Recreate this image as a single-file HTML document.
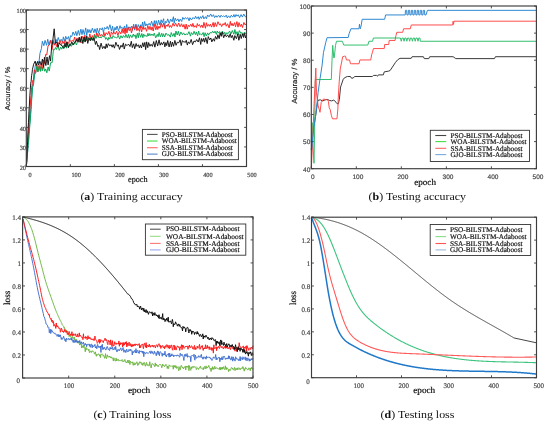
<!DOCTYPE html>
<html><head><meta charset="utf-8"><style>
html,body{margin:0;padding:0;background:#fff;overflow:hidden;}
svg{display:block;will-change:transform;text-rendering:geometricPrecision;}
</style></head><body>
<svg width="550" height="425" viewBox="0 0 550 425">
<rect width="550" height="425" fill="#fff"/>
<polyline points="26.30,166.50 26.74,162.14 27.18,156.13 27.62,152.32 28.06,144.59 28.50,142.02 28.94,134.07 29.38,129.75 29.82,122.50 30.26,117.33 30.70,110.09 31.14,105.48 31.58,97.55 32.03,93.30 32.47,86.63 34.01,77.85 35.20,65.74 36.77,63.74 37.63,61.53 38.90,62.65 39.99,53.16 41.42,48.68 42.35,41.26 43.84,45.69 45.06,40.39 46.57,45.35 47.74,39.31 48.87,44.82 50.29,40.40 51.86,43.60 52.95,39.82 54.51,44.90 56.04,39.38 56.97,42.39 58.25,37.49 59.60,41.46 61.14,39.26 62.46,42.00 63.36,36.87 64.55,41.14 65.73,36.30 66.92,39.25 68.47,36.55 69.54,41.20 70.51,35.73 71.72,36.62 73.02,31.97 74.56,35.29 75.81,31.39 76.82,35.76 78.35,30.42 79.53,35.35 80.86,29.15 82.03,34.65 82.99,29.56 84.33,34.56 85.74,27.91 86.68,35.65 87.84,29.26 88.92,32.62 89.85,29.68 90.81,32.94 92.37,28.19 93.86,32.70 94.96,28.80 96.34,33.41 97.16,28.16 98.68,33.26 99.90,28.24 101.34,29.90 102.36,27.74 103.45,32.48 104.51,27.56 106.08,28.94 107.21,26.43 108.40,29.52 109.95,24.75 111.46,31.00 112.57,26.12 113.60,32.40 115.03,27.36 115.91,29.97 117.02,25.98 118.50,31.01 120.02,25.66 121.00,28.46 121.86,27.24 123.27,29.05 124.56,25.94 125.54,30.71 126.73,24.51 127.58,29.88 128.93,26.77 130.14,28.35 131.49,26.21 132.36,30.43 133.66,24.19 134.75,30.16 135.93,24.02 136.99,28.88 138.29,24.60 139.53,28.00 140.81,24.71 141.66,27.77 142.63,21.94 143.48,28.46 144.57,21.50 145.75,26.04 146.63,24.01 147.95,25.05 149.13,23.28 150.32,25.52 151.59,21.25 153.12,26.41 154.38,20.64 155.25,26.22 156.15,20.64 157.50,25.22 158.55,20.14 159.94,25.03 161.14,19.78 162.23,22.88 163.61,18.69 164.55,26.74 165.56,21.35 166.59,22.67 167.71,18.87 169.22,23.45 170.66,19.16 172.10,21.74 173.40,16.75 174.20,23.25 175.21,18.16 176.41,20.74 177.91,18.83 178.99,21.85 180.22,19.06 181.69,21.51 182.75,17.34 184.13,19.35 185.40,17.50 186.61,18.89 187.90,17.61 189.08,20.85 189.96,17.69 191.46,19.99 193.02,17.47 194.48,18.97 195.55,16.21 196.85,18.72 198.25,16.65 199.09,19.38 200.51,16.61 201.37,18.51 202.91,15.60 203.89,18.90 205.45,16.67 206.43,18.75 207.64,14.98 209.09,16.81 210.67,13.96 212.02,16.65 213.48,14.70 214.58,17.62 215.97,15.65 217.07,17.27 218.60,15.28 220.00,17.40 221.09,15.22 222.51,16.72 223.35,15.81 224.88,16.95 226.22,15.12 227.27,17.97 228.58,15.82 229.99,17.70 231.29,15.19 232.78,17.11 233.90,14.59 234.95,17.14 236.04,14.49 237.05,16.18 238.22,14.75 239.62,17.63 241.10,14.56 242.40,17.09 243.81,14.09 245.38,16.86 246.50,16.30" fill="none" stroke="#1f80d0" stroke-width="0.95" stroke-linejoin="round" />
<polyline points="26.30,166.31 26.74,160.20 27.18,150.48 27.62,145.28 28.06,136.19 28.50,130.82 28.94,123.78 29.38,118.95 29.82,110.93 30.26,106.21 30.70,98.93 31.14,95.34 31.58,87.42 32.03,85.87 32.47,80.66 33.33,80.68 34.31,69.76 35.73,72.57 36.99,64.29 37.86,71.89 38.99,65.42 40.16,70.44 41.08,63.88 42.46,69.49 43.34,59.94 44.44,63.45 45.65,54.35 46.78,55.03 48.04,45.82 49.42,44.85 50.97,40.30 51.99,49.67 53.29,42.15 54.64,45.19 55.66,42.20 56.46,46.58 58.02,42.44 59.05,43.67 60.09,40.64 61.59,44.63 62.85,41.23 64.01,43.61 65.42,39.54 66.24,44.14 67.59,41.90 68.68,43.48 69.54,39.68 70.86,41.68 72.39,40.38 73.35,41.71 74.64,37.00 75.67,41.83 77.05,37.92 78.41,40.44 79.38,37.10 80.83,42.78 82.15,36.13 83.48,38.87 84.92,35.19 86.05,40.99 87.45,36.57 88.94,38.84 89.81,33.86 91.28,40.02 92.38,35.57 93.56,38.35 94.46,34.27 95.81,37.46 96.84,32.96 98.32,36.95 99.33,33.27 100.57,36.23 101.68,34.44 102.96,35.85 103.90,32.34 104.84,36.13 106.22,32.68 107.61,34.65 108.86,31.30 110.38,37.05 111.33,31.83 112.80,34.40 113.73,31.94 115.29,34.19 116.57,31.10 117.85,35.39 119.41,31.23 120.83,33.88 122.24,28.95 123.08,33.19 124.17,28.34 125.03,34.11 125.97,28.26 126.93,33.07 128.41,27.65 129.30,30.68 130.33,28.51 131.51,32.91 132.98,26.53 134.54,28.75 135.89,25.11 136.85,30.66 138.08,28.17 139.43,31.40 140.26,25.98 141.59,31.96 142.68,27.42 143.94,29.59 145.26,27.55 146.59,31.30 147.79,25.49 149.03,29.62 149.98,26.32 151.16,30.13 152.05,26.88 153.23,31.04 154.44,24.51 155.85,29.81 156.96,25.66 157.76,29.57 158.98,26.15 159.93,28.27 161.31,23.15 162.41,27.19 163.51,23.17 165.02,28.75 166.12,24.99 167.19,26.41 168.26,23.90 169.44,27.38 170.30,25.47 171.53,27.55 173.05,23.22 174.29,26.16 175.67,23.20 177.22,26.70 178.68,23.06 180.06,26.72 181.50,23.76 182.94,27.12 183.93,24.46 185.11,29.15 186.17,24.05 187.17,29.16 188.42,25.19 189.46,26.57 190.75,24.23 192.00,26.68 192.88,23.35 194.02,27.23 195.12,25.57 196.47,27.49 197.34,23.53 198.26,26.05 199.46,24.57 200.58,27.37 201.90,24.96 202.95,27.76 203.90,22.33 205.43,28.25 206.42,22.75 207.33,26.34 208.34,24.48 209.41,26.26 210.38,24.14 211.59,27.08 213.13,22.45 214.02,27.12 215.14,22.64 216.47,26.42 217.96,21.71 219.55,25.11 220.45,23.72 221.67,26.64 223.16,23.59 224.00,25.07 225.26,22.51 226.19,26.26 227.59,23.72 229.12,27.96 230.34,21.37 231.14,25.54 231.99,23.24 233.11,26.00 234.57,22.65 235.55,26.73 236.88,21.58 237.99,27.14 238.99,22.56 240.35,26.52 241.38,24.13 242.47,27.52 243.87,22.45 245.05,24.91 246.47,23.47 246.50,28.11" fill="none" stroke="#ff1c1c" stroke-width="0.95" stroke-linejoin="round" />
<polyline points="26.30,166.23 26.74,162.96 27.18,156.10 27.62,151.57 28.06,145.82 28.50,142.42 28.94,134.98 29.38,131.03 29.82,124.60 30.26,121.56 30.70,114.52 31.14,109.46 31.58,101.19 32.03,95.59 32.47,87.83 33.47,84.96 34.50,75.05 35.93,72.02 36.80,66.28 38.07,71.51 39.44,65.76 40.38,71.43 41.22,66.38 42.23,70.90 43.54,66.65 44.78,71.29 45.69,68.97 46.83,72.78 48.15,66.91 49.28,71.10 50.57,62.76 52.13,62.70 53.47,49.31 54.57,49.71 55.51,47.50 56.58,49.47 57.77,45.43 59.27,50.32 60.68,47.13 61.73,49.20 63.25,45.39 64.42,48.07 65.76,45.38 66.64,48.21 67.51,42.80 68.47,46.90 69.96,43.48 71.29,46.39 72.76,43.88 74.06,44.47 75.18,41.52 76.38,44.92 77.64,41.45 79.12,42.21 80.26,41.12 81.76,42.61 83.04,39.61 84.49,41.38 85.68,38.02 87.02,40.45 88.08,37.84 89.29,39.25 90.25,37.85 91.12,40.23 91.95,37.57 93.29,40.80 94.45,35.10 95.95,38.54 97.41,35.50 98.51,37.36 100.07,37.31 101.33,37.76 102.73,35.59 103.85,36.94 104.80,36.63 105.73,39.37 106.66,37.70 107.93,40.32 108.82,37.26 109.62,39.12 111.08,37.11 111.95,38.67 113.10,35.48 114.28,37.20 115.56,37.35 116.75,38.03 118.29,35.52 119.68,39.06 120.93,35.68 122.21,38.04 123.40,35.47 124.96,37.49 125.93,34.36 127.27,37.85 128.50,34.49 129.33,38.22 130.36,34.88 131.89,37.63 133.30,34.03 134.10,36.49 135.13,34.82 135.93,38.67 137.38,33.32 138.26,37.88 139.10,32.70 140.67,37.24 141.82,33.46 142.86,37.72 143.69,34.09 144.79,36.36 145.88,35.42 147.08,36.59 147.88,33.30 148.79,35.99 149.75,33.59 150.89,35.61 151.93,33.99 153.20,35.75 154.22,33.22 155.74,37.83 157.29,34.29 158.13,36.63 159.09,32.44 160.33,36.88 161.73,33.20 162.58,36.78 163.52,33.77 164.67,37.04 165.99,33.10 167.50,35.25 168.98,34.65 170.40,37.14 171.24,32.56 172.81,36.31 174.09,33.30 174.95,37.06 175.94,31.03 177.23,35.06 178.33,31.30 179.47,35.87 180.90,31.98 182.35,34.70 183.57,32.87 185.00,35.08 186.11,33.92 187.68,34.53 188.95,31.64 190.51,36.17 191.34,32.56 192.83,34.73 194.06,31.29 195.42,34.66 196.37,31.95 197.60,35.94 198.62,31.08 199.49,34.60 200.29,34.03 201.80,34.91 203.13,32.50 204.08,36.68 205.08,32.71 206.24,36.03 207.68,32.88 208.57,35.18 210.13,32.58 211.67,32.97 212.65,31.26 213.95,33.02 215.03,31.17 216.38,34.39 217.24,30.97 218.41,33.11 219.66,31.52 220.95,35.05 222.30,31.14 223.80,34.08 224.78,32.21 225.69,35.02 226.80,32.64 228.04,33.73 229.59,31.04 230.95,33.92 232.33,30.53 233.89,34.26 234.90,29.55 235.89,34.48 237.02,31.58 238.05,34.98 239.36,30.64 240.91,33.39 241.82,32.40 243.02,35.59 244.35,32.19 245.54,34.02 246.50,31.74" fill="none" stroke="#00a650" stroke-width="0.95" stroke-linejoin="round" />
<polyline points="26.30,165.72 26.74,159.53 27.18,148.64 27.62,141.35 28.06,129.34 28.50,122.21 28.94,111.27 29.38,105.02 29.82,95.89 30.26,89.87 30.70,83.21 31.14,81.39 31.58,75.68 32.03,73.13 32.47,69.28 33.66,64.18 35.21,61.08 36.12,65.51 37.66,61.52 38.70,65.02 39.83,61.26 41.28,64.95 42.40,59.02 43.62,67.29 44.44,57.32 45.83,65.54 47.05,56.95 48.10,64.86 49.52,55.66 50.55,61.10 51.71,45.89 52.37,44.23 54.18,28.78 55.37,43.26 57.06,42.00 58.07,47.15 59.25,42.94 60.82,45.16 62.38,46.14 63.74,48.49 64.97,43.19 65.98,46.99 66.90,41.82 68.46,47.73 69.66,44.66 70.55,45.22 71.83,41.95 73.24,44.75 74.52,42.15 76.04,41.39 76.86,39.20 78.08,41.96 79.23,37.35 80.07,42.07 81.38,36.60 82.84,43.52 84.11,36.96 85.11,42.09 86.56,36.29 87.76,43.42 88.96,38.25 90.35,40.83 91.26,37.53 92.70,40.29 94.04,37.74 95.45,44.50 96.40,41.16 97.83,46.45 98.77,45.27 99.63,49.55 101.10,43.18 102.57,48.63 104.06,46.28 105.23,48.88 106.24,43.85 107.04,47.70 108.34,43.67 109.70,45.87 111.16,44.78 112.18,47.19 113.14,44.62 114.44,48.17 115.87,42.20 117.43,46.22 118.34,44.85 119.51,49.44 121.01,45.26 122.14,47.20 123.40,42.93 124.21,49.04 125.54,44.18 127.06,45.63 128.51,44.06 130.01,46.54 131.32,41.28 132.31,47.62 133.71,43.84 134.67,48.74 136.12,43.47 136.97,46.43 138.41,44.73 139.34,47.83 140.43,44.90 141.47,48.04 142.81,42.76 143.74,46.80 144.85,42.41 145.65,49.58 146.65,41.85 147.78,47.70 148.65,42.57 149.95,46.26 151.04,44.24 152.41,46.36 153.72,41.58 154.86,47.16 156.34,40.53 157.63,46.04 159.06,39.82 160.13,45.23 161.35,42.52 162.30,44.77 163.88,41.85 164.87,46.84 165.86,42.54 166.72,45.57 167.71,40.55 169.11,46.96 170.46,41.27 171.35,46.76 172.44,42.06 173.57,46.29 174.89,40.43 176.04,45.29 177.30,42.24 178.76,42.82 180.13,39.75 181.21,45.57 182.36,40.52 183.44,41.99 184.32,41.78 185.27,42.56 186.29,40.29 187.33,45.09 188.37,41.86 189.62,43.57 191.19,39.43 192.59,44.68 194.01,40.98 195.41,41.89 196.67,39.55 198.20,42.04 199.53,37.81 200.72,44.45 201.58,38.50 202.76,41.53 203.72,38.32 204.62,42.19 205.81,37.64 207.23,43.61 208.25,36.62 209.65,39.82 210.86,37.97 211.77,41.92 213.33,38.73 214.44,41.22 215.47,36.45 216.93,39.26 217.83,34.76 219.20,38.69 220.14,32.81 221.25,36.38 222.22,31.97 223.68,37.75 224.78,34.73 226.35,36.71 227.64,34.86 228.98,37.53 230.19,33.84 231.22,37.68 232.33,35.34 233.87,40.28 234.82,35.54 236.40,38.71 237.79,34.03 238.87,40.25 240.17,34.27 241.26,38.50 242.36,33.80 243.55,37.46 244.36,33.31 245.54,38.00 246.50,33.75" fill="none" stroke="#111111" stroke-width="0.95" stroke-linejoin="round" />
<path d="M26.30 166.50v-2.4M26.30 10.00v2.4M70.34 166.50v-2.4M70.34 10.00v2.4M114.38 166.50v-2.4M114.38 10.00v2.4M158.42 166.50v-2.4M158.42 10.00v2.4M202.46 166.50v-2.4M202.46 10.00v2.4M246.50 166.50v-2.4M246.50 10.00v2.4M26.30 166.50h2.4M246.50 166.50h-2.4M26.30 146.94h2.4M246.50 146.94h-2.4M26.30 127.38h2.4M246.50 127.38h-2.4M26.30 107.81h2.4M246.50 107.81h-2.4M26.30 88.25h2.4M246.50 88.25h-2.4M26.30 68.69h2.4M246.50 68.69h-2.4M26.30 49.12h2.4M246.50 49.12h-2.4M26.30 29.56h2.4M246.50 29.56h-2.4M26.30 10.00h2.4M246.50 10.00h-2.4" stroke="#3d3d3d" stroke-width="0.9" fill="none"/>
<rect x="26.3" y="10.0" width="220.20" height="156.50" fill="none" stroke="#3d3d3d" stroke-width="1.15"/>
<text x="26.00" y="169.70" font-family='"Liberation Serif", serif' font-size="6.3" text-anchor="end" fill="#4a4a4a" stroke="#4a4a4a" stroke-width="0.2" >20</text>
<text x="26.00" y="150.14" font-family='"Liberation Serif", serif' font-size="6.3" text-anchor="end" fill="#4a4a4a" stroke="#4a4a4a" stroke-width="0.2" >30</text>
<text x="26.00" y="130.57" font-family='"Liberation Serif", serif' font-size="6.3" text-anchor="end" fill="#4a4a4a" stroke="#4a4a4a" stroke-width="0.2" >40</text>
<text x="26.00" y="111.01" font-family='"Liberation Serif", serif' font-size="6.3" text-anchor="end" fill="#4a4a4a" stroke="#4a4a4a" stroke-width="0.2" >50</text>
<text x="26.00" y="91.45" font-family='"Liberation Serif", serif' font-size="6.3" text-anchor="end" fill="#4a4a4a" stroke="#4a4a4a" stroke-width="0.2" >60</text>
<text x="26.00" y="71.89" font-family='"Liberation Serif", serif' font-size="6.3" text-anchor="end" fill="#4a4a4a" stroke="#4a4a4a" stroke-width="0.2" >70</text>
<text x="26.00" y="52.33" font-family='"Liberation Serif", serif' font-size="6.3" text-anchor="end" fill="#4a4a4a" stroke="#4a4a4a" stroke-width="0.2" >80</text>
<text x="26.00" y="32.76" font-family='"Liberation Serif", serif' font-size="6.3" text-anchor="end" fill="#4a4a4a" stroke="#4a4a4a" stroke-width="0.2" >90</text>
<text x="26.00" y="13.20" font-family='"Liberation Serif", serif' font-size="6.3" text-anchor="end" fill="#4a4a4a" stroke="#4a4a4a" stroke-width="0.2" >100</text>
<text x="30.10" y="176.60" font-family='"Liberation Serif", serif' font-size="6.3" text-anchor="middle" fill="#4a4a4a" stroke="#4a4a4a" stroke-width="0.2" >0</text>
<text x="76.14" y="176.60" font-family='"Liberation Serif", serif' font-size="6.3" text-anchor="middle" fill="#4a4a4a" stroke="#4a4a4a" stroke-width="0.2" >100</text>
<text x="119.98" y="176.60" font-family='"Liberation Serif", serif' font-size="6.3" text-anchor="middle" fill="#4a4a4a" stroke="#4a4a4a" stroke-width="0.2" >200</text>
<text x="163.92" y="176.60" font-family='"Liberation Serif", serif' font-size="6.3" text-anchor="middle" fill="#4a4a4a" stroke="#4a4a4a" stroke-width="0.2" >300</text>
<text x="207.96" y="176.60" font-family='"Liberation Serif", serif' font-size="6.3" text-anchor="middle" fill="#4a4a4a" stroke="#4a4a4a" stroke-width="0.2" >400</text>
<text x="252.00" y="176.60" font-family='"Liberation Serif", serif' font-size="6.3" text-anchor="middle" fill="#4a4a4a" stroke="#4a4a4a" stroke-width="0.2" >500</text>
<text x="128.00" y="182.40" font-family='"Liberation Serif", serif' font-size="8.6" text-anchor="start" fill="#111" textLength="19.60" lengthAdjust="spacingAndGlyphs" stroke="#111" stroke-width="0.2" >epoch</text>
<text x="0.00" y="0.00" font-family='"Liberation Sans", sans-serif' font-size="7.0" text-anchor="middle" fill="#2a2a2a" textLength="43.60" lengthAdjust="spacingAndGlyphs" stroke="#2a2a2a" stroke-width="0.2" transform="translate(10.2,88.4) rotate(-90)">Accuracy / %</text>
<rect x="142.4" y="129.4" width="96.00" height="30.30" fill="#fff" stroke="#333" stroke-width="0.9"/>
<line x1="147.0" y1="134.41" x2="157.6" y2="134.41" stroke="#555" stroke-width="1.1"/>
<text x="161.80" y="136.60" font-family='"Liberation Serif", serif' font-size="7.3" text-anchor="start" fill="#111" textLength="71.00" lengthAdjust="spacingAndGlyphs" stroke="#111" stroke-width="0.18">PSO-BILSTM-Adaboost</text>
<line x1="147.0" y1="141.01" x2="157.6" y2="141.01" stroke="#4d4" stroke-width="1.1"/>
<text x="161.80" y="143.20" font-family='"Liberation Serif", serif' font-size="7.3" text-anchor="start" fill="#111" textLength="74.93" lengthAdjust="spacingAndGlyphs" stroke="#111" stroke-width="0.18">WOA-BILSTM-Adaboost</text>
<line x1="147.0" y1="147.71" x2="157.6" y2="147.71" stroke="#f66" stroke-width="1.1"/>
<text x="161.80" y="149.90" font-family='"Liberation Serif", serif' font-size="7.3" text-anchor="start" fill="#111" textLength="71.00" lengthAdjust="spacingAndGlyphs" stroke="#111" stroke-width="0.18">SSA-BILSTM-Adaboost</text>
<line x1="147.0" y1="154.11" x2="157.6" y2="154.11" stroke="#58c" stroke-width="1.1"/>
<text x="161.80" y="156.30" font-family='"Liberation Serif", serif' font-size="7.3" text-anchor="start" fill="#111" textLength="71.00" lengthAdjust="spacingAndGlyphs" stroke="#111" stroke-width="0.18">GJO-BILSTM-Adaboost</text>
<polyline points="311.30,149.72 311.98,141.58 313.55,128.02 315.80,114.47 317.87,100.37 320.30,99.82 322.56,100.91 324.81,100.09 327.06,99.28 329.31,100.37 331.56,100.91 333.81,100.09 336.06,102.26 336.96,103.62 338.31,103.89 339.39,99.28 340.56,87.08 341.19,85.18 343.26,79.21 344.16,78.13 345.97,77.05 347.59,76.50 350.47,76.50 351.37,78.13 353.17,78.13 354.52,76.50 372.39,76.50 373.43,75.42 376.58,75.42 377.48,76.23 378.38,74.88 383.33,74.88 384.23,71.89 388.73,71.08 390.08,70.54 395.49,62.40 397.74,59.69 399.99,58.34 411.24,58.34 412.14,56.71 423.40,56.71 424.30,58.61 428.80,58.61 429.70,56.71 453.11,56.71 455.81,58.61 494.53,58.61 495.43,56.71 536.40,56.71" fill="none" stroke="#3a3a3a" stroke-width="1.0" stroke-linejoin="round" />
<polyline points="311.30,141.58 312.20,122.60 313.10,147.01 314.00,163.28 314.68,128.02 315.35,79.49 331.33,79.49 332.01,60.23 332.73,45.32 333.81,58.06 334.26,57.52 335.52,45.32 336.51,41.25 342.36,41.25 343.71,45.05 367.80,45.05 368.93,41.25 372.53,41.25 373.43,38.00 400.44,38.00 401.25,41.25 402.06,38.00 403.23,38.00 404.04,41.25 404.85,38.00 406.02,38.00 406.83,41.25 407.64,38.00 408.81,38.00 409.62,41.25 410.43,38.00 411.60,38.00 412.41,41.25 413.23,38.00 414.40,38.00 415.21,41.25 416.02,38.00 417.19,38.00 418.00,41.25 418.81,38.00 419.98,38.00 420.25,41.25 536.40,41.25" fill="none" stroke="#33c070" stroke-width="1.0" stroke-linejoin="round" />
<polyline points="311.30,168.70 312.65,141.58 314.00,106.33 314.90,87.35 315.80,68.10 316.48,92.77 318.05,105.25 320.03,112.30 321.20,102.54 323.46,99.01 327.96,100.09 328.41,101.45 329.22,107.69 330.21,109.59 331.33,115.28 332.46,118.81 336.96,118.81 337.86,109.04 338.22,98.20 339.21,81.93 340.25,68.91 341.46,62.94 342.68,56.71 344.61,56.17 345.52,56.17 346.42,59.96 349.57,59.96 350.47,63.76 351.37,63.76 359.02,63.76 359.92,59.96 370.73,59.96 371.63,54.81 372.53,52.10 373.43,48.57 384.23,48.57 384.68,44.51 388.73,44.51 389.18,40.44 395.04,40.44 395.94,35.56 396.84,32.30 402.69,32.30 403.59,28.78 410.34,28.78 411.24,24.98 452.66,24.98 453.11,21.19 453.56,24.44 454.01,21.19 536.40,21.19" fill="none" stroke="#ff4d4d" stroke-width="1.0" stroke-linejoin="round" />
<polyline points="311.30,149.72 311.75,148.63 313.55,129.38 315.80,114.47 318.05,92.77 320.03,78.67 321.38,70.00 322.10,65.11 323.46,52.64 325.71,42.61 327.06,37.73 348.22,37.46 349.12,33.66 350.92,28.78 359.02,28.78 359.47,24.17 359.92,27.69 360.37,28.78 361.27,24.98 362.17,19.29 384.68,19.29 385.58,14.95 405.21,14.95 405.44,10.34 406.70,10.34 406.92,14.95 408.18,14.95 408.41,10.34 409.67,10.34 409.89,14.95 411.15,14.95 411.38,10.34 412.64,10.34 412.87,14.95 414.13,14.95 414.35,10.34 415.61,10.34 415.84,14.95 417.10,14.95 417.32,10.34 418.58,10.34 418.81,14.95 420.07,14.95 420.29,10.34 421.55,10.34 421.78,14.95 423.04,14.95 423.26,10.34 424.53,10.34 424.75,14.95 426.01,14.95 427.45,10.34 536.40,10.34" fill="none" stroke="#2f88d2" stroke-width="1.0" stroke-linejoin="round" />
<path d="M311.30 168.70v-2.4M311.30 6.00v2.4M356.32 168.70v-2.4M356.32 6.00v2.4M401.34 168.70v-2.4M401.34 6.00v2.4M446.36 168.70v-2.4M446.36 6.00v2.4M491.38 168.70v-2.4M491.38 6.00v2.4M536.40 168.70v-2.4M536.40 6.00v2.4M311.30 168.70h2.4M536.40 168.70h-2.4M311.30 141.58h2.4M536.40 141.58h-2.4M311.30 114.47h2.4M536.40 114.47h-2.4M311.30 87.35h2.4M536.40 87.35h-2.4M311.30 60.23h2.4M536.40 60.23h-2.4M311.30 33.12h2.4M536.40 33.12h-2.4M311.30 6.00h2.4M536.40 6.00h-2.4" stroke="#3d3d3d" stroke-width="0.9" fill="none"/>
<rect x="311.3" y="6.0" width="225.10" height="162.70" fill="none" stroke="#3d3d3d" stroke-width="1.15"/>
<text x="310.30" y="171.60" font-family='"Liberation Sans", sans-serif' font-size="6.5" text-anchor="end" fill="#4a4a4a" stroke="#4a4a4a" stroke-width="0.2" >40</text>
<text x="310.30" y="144.48" font-family='"Liberation Sans", sans-serif' font-size="6.5" text-anchor="end" fill="#4a4a4a" stroke="#4a4a4a" stroke-width="0.2" >50</text>
<text x="310.30" y="117.37" font-family='"Liberation Sans", sans-serif' font-size="6.5" text-anchor="end" fill="#4a4a4a" stroke="#4a4a4a" stroke-width="0.2" >60</text>
<text x="310.30" y="90.25" font-family='"Liberation Sans", sans-serif' font-size="6.5" text-anchor="end" fill="#4a4a4a" stroke="#4a4a4a" stroke-width="0.2" >70</text>
<text x="310.30" y="63.13" font-family='"Liberation Sans", sans-serif' font-size="6.5" text-anchor="end" fill="#4a4a4a" stroke="#4a4a4a" stroke-width="0.2" >80</text>
<text x="310.30" y="36.02" font-family='"Liberation Sans", sans-serif' font-size="6.5" text-anchor="end" fill="#4a4a4a" stroke="#4a4a4a" stroke-width="0.2" >90</text>
<text x="310.30" y="8.90" font-family='"Liberation Sans", sans-serif' font-size="6.5" text-anchor="end" fill="#4a4a4a" stroke="#4a4a4a" stroke-width="0.2" >100</text>
<text x="312.90" y="178.80" font-family='"Liberation Sans", sans-serif' font-size="6.5" text-anchor="middle" fill="#4a4a4a" stroke="#4a4a4a" stroke-width="0.2" >0</text>
<text x="357.92" y="178.80" font-family='"Liberation Sans", sans-serif' font-size="6.5" text-anchor="middle" fill="#4a4a4a" stroke="#4a4a4a" stroke-width="0.2" >100</text>
<text x="402.94" y="178.80" font-family='"Liberation Sans", sans-serif' font-size="6.5" text-anchor="middle" fill="#4a4a4a" stroke="#4a4a4a" stroke-width="0.2" >200</text>
<text x="447.96" y="178.80" font-family='"Liberation Sans", sans-serif' font-size="6.5" text-anchor="middle" fill="#4a4a4a" stroke="#4a4a4a" stroke-width="0.2" >300</text>
<text x="492.98" y="178.80" font-family='"Liberation Sans", sans-serif' font-size="6.5" text-anchor="middle" fill="#4a4a4a" stroke="#4a4a4a" stroke-width="0.2" >400</text>
<text x="538.00" y="178.80" font-family='"Liberation Sans", sans-serif' font-size="6.5" text-anchor="middle" fill="#4a4a4a" stroke="#4a4a4a" stroke-width="0.2" >500</text>
<text x="414.20" y="185.20" font-family='"Liberation Serif", serif' font-size="8.8" text-anchor="start" fill="#111" textLength="21.80" lengthAdjust="spacingAndGlyphs" stroke="#111" stroke-width="0.2" >epoch</text>
<text x="0.00" y="0.00" font-family='"Liberation Sans", sans-serif' font-size="7.4" text-anchor="middle" fill="#222" textLength="45.00" lengthAdjust="spacingAndGlyphs" stroke="#222" stroke-width="0.2" transform="translate(296.9,81.1) rotate(-90)">Accuracy / %</text>
<rect x="430.3" y="130.3" width="99.20" height="31.20" fill="#fff" stroke="#333" stroke-width="0.9"/>
<line x1="435.3" y1="135.51" x2="446.2" y2="135.51" stroke="#444" stroke-width="1.1"/>
<text x="450.40" y="137.70" font-family='"Liberation Serif", serif' font-size="7.3" text-anchor="start" fill="#111" textLength="72.20" lengthAdjust="spacingAndGlyphs" stroke="#111" stroke-width="0.18">PSO-BILSTM-Adaboost</text>
<line x1="435.3" y1="141.61" x2="446.2" y2="141.61" stroke="#4d4" stroke-width="1.1"/>
<text x="450.40" y="143.80" font-family='"Liberation Serif", serif' font-size="7.3" text-anchor="start" fill="#111" textLength="76.20" lengthAdjust="spacingAndGlyphs" stroke="#111" stroke-width="0.18">WOA-BILSTM-Adaboost</text>
<line x1="435.3" y1="148.31" x2="446.2" y2="148.31" stroke="#f66" stroke-width="1.1"/>
<text x="450.40" y="150.50" font-family='"Liberation Serif", serif' font-size="7.3" text-anchor="start" fill="#111" textLength="72.20" lengthAdjust="spacingAndGlyphs" stroke="#111" stroke-width="0.18">SSA-BILSTM-Adaboost</text>
<line x1="435.3" y1="154.61" x2="446.2" y2="154.61" stroke="#7ad" stroke-width="1.1"/>
<text x="450.40" y="156.80" font-family='"Liberation Serif", serif' font-size="7.3" text-anchor="start" fill="#111" textLength="72.20" lengthAdjust="spacingAndGlyphs" stroke="#111" stroke-width="0.18">GJO-BILSTM-Adaboost</text>
<polyline points="23.06,217.00 23.52,217.17 23.98,217.41 24.44,217.72 24.90,218.07 25.36,218.47 25.83,218.91 26.29,219.37 26.75,219.85 27.21,220.35 27.67,220.91 28.13,221.59 28.59,222.37 29.05,223.23 29.51,224.16 29.97,225.15 30.43,226.19 30.89,227.26 31.36,228.40 31.82,229.66 32.28,231.02 32.74,232.46 33.20,233.97 33.66,235.54 34.12,237.14 34.58,238.76 35.04,240.46 35.50,242.27 35.96,244.15 36.42,246.09 36.88,248.04 37.35,249.97 37.81,251.84 38.27,253.65 38.73,255.42 39.19,257.18 39.65,258.92 40.11,260.64 40.57,262.36 41.03,264.08 41.49,265.80 41.95,267.53 42.41,269.28 42.88,271.06 43.34,272.85 43.80,274.63 44.26,276.39 44.72,278.11 45.18,279.76 45.64,281.34 46.10,282.85 46.56,284.30 47.02,285.72 47.48,287.10 47.94,288.45 48.40,289.78 48.87,291.10 49.33,292.41 49.79,293.72 50.25,295.03 50.71,296.35 51.17,297.64 51.63,298.93 52.09,300.20 52.55,301.48 53.01,302.77 53.47,304.08 53.93,305.40 54.40,306.70 54.86,307.97 55.32,309.20 55.78,310.35 56.24,311.45 56.70,312.52 57.16,313.59 57.62,314.65 58.08,315.69 58.54,316.72 59.00,317.73 59.46,318.73 59.92,319.70 60.39,320.62 60.85,321.53 61.31,322.38 61.77,323.22 62.23,324.74 62.69,325.34 63.15,325.74 63.61,326.44 64.07,328.19 64.53,327.53 64.99,329.13 65.45,329.68 65.92,329.98 66.38,330.23 66.84,332.58 67.30,331.13 67.76,332.50 68.22,333.88 68.68,333.98 69.14,336.58 69.60,335.42 70.06,335.01 70.52,336.47 70.98,336.53 71.44,340.17 71.91,337.04 72.37,336.42 72.83,338.00 73.29,338.67 73.75,338.21 74.21,336.91 74.67,339.94 75.13,339.37 75.59,342.01 76.05,339.17 76.51,340.27 76.97,339.88 77.44,341.75 77.90,343.17 78.36,341.41 78.82,341.91 79.28,344.04 79.74,345.07 80.20,343.34 80.66,344.39 81.12,341.73 81.58,347.94 82.04,345.92 82.50,345.83 82.96,347.89 83.43,347.40 83.89,344.98 84.35,347.26 84.81,348.10 85.27,351.81 85.73,347.40 86.19,347.60 86.65,349.74 87.11,349.33 87.57,348.86 88.03,349.05 88.49,350.49 88.96,349.34 89.42,352.61 89.88,351.97 90.34,351.15 90.80,351.19 91.26,352.60 91.72,351.21 92.18,350.65 92.64,351.54 93.10,352.02 93.56,351.57 94.02,352.24 94.48,354.14 94.95,353.30 95.41,351.85 95.87,354.68 96.33,356.25 96.79,354.19 97.25,354.89 97.71,355.16 98.17,354.07 98.63,353.97 99.09,354.10 99.55,356.13 100.01,354.98 100.48,357.59 100.94,353.85 101.40,354.25 101.86,354.18 102.32,354.00 102.78,354.40 103.24,356.29 103.70,355.44 104.16,356.39 104.62,358.33 105.08,357.68 105.54,353.67 106.00,357.30 106.47,358.66 106.93,356.98 107.39,354.82 107.85,356.68 108.31,356.35 108.77,357.27 109.23,357.25 109.69,355.97 110.15,356.68 110.61,357.84 111.07,356.97 111.53,356.96 112.00,358.57 112.46,358.21 112.92,358.41 113.38,361.09 113.84,357.74 114.30,359.31 114.76,359.93 115.22,361.20 115.68,360.88 116.14,357.94 116.60,360.97 117.06,359.37 117.52,360.35 117.99,359.50 118.45,359.50 118.91,361.11 119.37,360.69 119.83,360.36 120.29,360.44 120.75,360.69 121.21,361.10 121.67,360.16 122.13,359.50 122.59,360.44 123.05,361.93 123.52,360.78 123.98,361.23 124.44,360.87 124.90,359.44 125.36,361.78 125.82,361.64 126.28,362.98 126.74,362.10 127.20,362.48 127.66,360.18 128.12,362.78 128.58,362.70 129.04,360.04 129.51,363.67 129.97,364.62 130.43,361.25 130.89,361.80 131.35,362.78 131.81,362.71 132.27,363.01 132.73,361.84 133.19,365.34 133.65,363.38 134.11,362.72 134.57,364.89 135.04,365.00 135.50,363.34 135.96,363.96 136.42,362.32 136.88,361.73 137.34,363.24 137.80,365.49 138.26,363.65 138.72,364.50 139.18,362.80 139.64,361.76 140.10,363.31 140.56,362.05 141.03,362.12 141.49,363.06 141.95,364.82 142.41,363.70 142.87,365.45 143.33,362.78 143.79,363.83 144.25,362.50 144.71,363.73 145.17,366.21 145.63,366.04 146.09,363.17 146.56,362.41 147.02,365.34 147.48,365.33 147.94,364.30 148.40,365.57 148.86,365.97 149.32,365.71 149.78,361.73 150.24,365.31 150.70,365.78 151.16,368.00 151.62,364.77 152.08,363.41 152.55,363.83 153.01,364.05 153.47,364.90 153.93,364.82 154.39,365.73 154.85,366.72 155.31,362.89 155.77,365.65 156.23,364.09 156.69,365.58 157.15,365.37 157.61,365.48 158.08,366.86 158.54,365.48 159.00,365.01 159.46,364.56 159.92,364.96 160.38,364.43 160.84,365.26 161.30,365.62 161.76,367.81 162.22,366.28 162.68,364.03 163.14,365.63 163.60,364.93 164.07,366.07 164.53,366.61 164.99,365.41 165.45,365.55 165.91,364.34 166.37,365.43 166.83,366.37 167.29,368.53 167.75,366.02 168.21,367.86 168.67,368.61 169.13,364.86 169.60,365.46 170.06,365.58 170.52,366.26 170.98,366.38 171.44,365.91 171.90,366.24 172.36,366.36 172.82,365.66 173.28,369.19 173.74,365.55 174.20,367.25 174.66,365.66 175.12,365.34 175.59,367.58 176.05,365.82 176.51,368.38 176.97,367.53 177.43,367.38 177.89,366.71 178.35,369.30 178.81,370.77 179.27,366.72 179.73,367.44 180.19,369.75 180.65,367.44 181.12,365.37 181.58,365.61 182.04,367.21 182.50,367.99 182.96,367.15 183.42,368.98 183.88,367.91 184.34,367.56 184.80,366.53 185.26,366.21 185.72,369.92 186.18,366.21 186.64,367.15 187.11,366.05 187.57,367.35 188.03,366.87 188.49,365.57 188.95,370.63 189.41,365.66 189.87,367.21 190.33,369.43 190.79,370.37 191.25,367.12 191.71,368.61 192.17,366.40 192.64,367.28 193.10,367.67 193.56,366.46 194.02,367.35 194.48,366.76 194.94,366.68 195.40,367.25 195.86,366.75 196.32,369.72 196.78,369.14 197.24,367.96 197.70,367.80 198.16,368.10 198.63,369.43 199.09,368.33 199.55,367.35 200.01,367.52 200.47,366.08 200.93,368.42 201.39,368.25 201.85,368.41 202.31,368.14 202.77,368.47 203.23,369.87 203.69,367.45 204.16,366.76 204.62,366.63 205.08,369.06 205.54,368.09 206.00,365.87 206.46,368.33 206.92,367.53 207.38,368.09 207.84,366.83 208.30,366.89 208.76,365.41 209.22,367.42 209.68,367.49 210.15,369.31 210.61,368.45 211.07,371.46 211.53,368.38 211.99,369.46 212.45,366.71 212.91,369.20 213.37,367.76 213.83,369.45 214.29,367.71 214.75,366.28 215.21,369.00 215.68,367.72 216.14,368.20 216.60,367.83 217.06,367.69 217.52,368.85 217.98,368.36 218.44,368.82 218.90,369.09 219.36,369.54 219.82,367.15 220.28,370.03 220.74,367.50 221.20,367.63 221.67,369.34 222.13,367.11 222.59,369.21 223.05,367.59 223.51,366.69 223.97,369.08 224.43,369.32 224.89,369.35 225.35,365.82 225.81,368.75 226.27,369.73 226.73,367.47 227.20,368.56 227.66,368.41 228.12,369.48 228.58,371.65 229.04,369.21 229.50,369.56 229.96,370.71 230.42,369.63 230.88,369.49 231.34,367.58 231.80,367.70 232.26,367.91 232.72,369.07 233.19,369.87 233.65,369.81 234.11,368.01 234.57,367.43 235.03,370.69 235.49,369.70 235.95,368.21 236.41,369.57 236.87,369.44 237.33,367.87 237.79,369.96 238.25,368.67 238.72,367.74 239.18,368.34 239.64,368.14 240.10,369.83 240.56,368.76 241.02,368.92 241.48,367.97 241.94,368.18 242.40,368.61 242.86,366.57 243.32,368.06 243.78,368.97 244.24,371.16 244.71,368.71 245.17,369.30 245.63,367.33 246.09,368.06 246.55,369.03 247.01,369.41 247.47,369.87 247.93,369.01 248.39,369.43 248.85,367.80 249.31,368.78 249.77,368.57 250.24,370.77 250.70,367.90 251.16,368.98 251.62,367.24 252.08,368.95 252.54,369.28 253.00,368.52" fill="none" stroke="#6ab43c" stroke-width="0.95" stroke-linejoin="round" />
<polyline points="23.06,219.08 23.52,221.26 23.98,223.43 24.44,225.59 24.90,227.75 25.36,229.89 25.83,232.03 26.29,234.16 26.75,236.27 27.21,238.35 27.67,240.40 28.13,242.44 28.59,244.47 29.05,246.49 29.51,248.51 29.97,250.54 30.43,252.59 30.89,254.65 31.36,256.74 31.82,258.85 32.28,261.01 32.74,263.21 33.20,265.45 33.66,267.80 34.12,270.23 34.58,272.73 35.04,275.28 35.50,277.84 35.96,280.39 36.42,282.90 36.88,285.35 37.35,287.72 37.81,289.97 38.27,292.12 38.73,294.19 39.19,296.20 39.65,298.17 40.11,300.11 40.57,302.03 41.03,303.95 41.49,305.88 41.95,307.75 42.41,309.72 42.88,312.00 43.34,313.58 43.80,316.37 44.26,316.96 44.72,318.19 45.18,320.12 45.64,321.38 46.10,324.09 46.56,324.34 47.02,325.10 47.48,325.25 47.94,327.40 48.40,326.94 48.87,327.63 49.33,332.84 49.79,330.76 50.25,329.02 50.71,333.56 51.17,332.01 51.63,329.74 52.09,330.92 52.55,331.96 53.01,331.90 53.47,332.90 53.93,333.40 54.40,333.63 54.86,332.87 55.32,333.58 55.78,334.55 56.24,334.33 56.70,334.80 57.16,336.39 57.62,334.74 58.08,334.22 58.54,336.64 59.00,334.77 59.46,336.79 59.92,334.85 60.39,334.99 60.85,337.24 61.31,339.50 61.77,337.62 62.23,339.14 62.69,339.23 63.15,338.07 63.61,336.20 64.07,338.20 64.53,338.52 64.99,340.74 65.45,339.30 65.92,341.80 66.38,338.15 66.84,339.60 67.30,339.11 67.76,339.20 68.22,339.54 68.68,338.21 69.14,338.92 69.60,340.05 70.06,339.57 70.52,339.19 70.98,338.27 71.44,339.97 71.91,338.43 72.37,341.14 72.83,340.82 73.29,342.55 73.75,339.78 74.21,342.28 74.67,342.43 75.13,340.21 75.59,342.11 76.05,342.54 76.51,340.53 76.97,342.13 77.44,341.06 77.90,342.69 78.36,341.40 78.82,341.09 79.28,342.48 79.74,340.43 80.20,343.33 80.66,343.22 81.12,342.97 81.58,341.91 82.04,343.66 82.50,343.97 82.96,343.21 83.43,342.06 83.89,344.28 84.35,345.48 84.81,344.14 85.27,343.29 85.73,344.87 86.19,344.14 86.65,346.76 87.11,344.47 87.57,344.47 88.03,343.92 88.49,344.41 88.96,343.93 89.42,346.26 89.88,344.26 90.34,347.28 90.80,346.04 91.26,343.98 91.72,344.40 92.18,347.91 92.64,344.91 93.10,346.29 93.56,346.82 94.02,345.67 94.48,345.85 94.95,344.34 95.41,348.01 95.87,346.81 96.33,346.54 96.79,348.77 97.25,345.04 97.71,344.38 98.17,347.47 98.63,346.28 99.09,347.18 99.55,346.58 100.01,347.85 100.48,346.02 100.94,352.46 101.40,345.50 101.86,346.85 102.32,344.31 102.78,349.54 103.24,347.64 103.70,349.22 104.16,347.84 104.62,347.19 105.08,348.97 105.54,349.69 106.00,350.14 106.47,347.74 106.93,346.47 107.39,346.67 107.85,348.18 108.31,349.50 108.77,348.81 109.23,350.33 109.69,350.48 110.15,347.20 110.61,348.97 111.07,348.28 111.53,349.09 112.00,347.13 112.46,347.05 112.92,349.91 113.38,349.46 113.84,349.91 114.30,347.45 114.76,347.60 115.22,349.61 115.68,346.39 116.14,349.33 116.60,351.31 117.06,352.05 117.52,349.72 117.99,349.90 118.45,350.40 118.91,349.26 119.37,350.69 119.83,349.91 120.29,348.82 120.75,347.84 121.21,349.37 121.67,350.79 122.13,349.57 122.59,349.49 123.05,347.52 123.52,350.83 123.98,352.30 124.44,350.01 124.90,350.03 125.36,351.02 125.82,352.60 126.28,350.20 126.74,349.12 127.20,351.76 127.66,351.65 128.12,350.84 128.58,351.50 129.04,349.30 129.51,350.23 129.97,351.04 130.43,349.13 130.89,350.47 131.35,349.89 131.81,350.19 132.27,354.93 132.73,351.48 133.19,351.34 133.65,352.78 134.11,351.88 134.57,350.41 135.04,351.15 135.50,352.78 135.96,348.64 136.42,352.98 136.88,350.93 137.34,350.84 137.80,350.19 138.26,352.94 138.72,351.86 139.18,353.53 139.64,350.53 140.10,351.53 140.56,351.52 141.03,351.41 141.49,350.86 141.95,352.37 142.41,351.09 142.87,353.42 143.33,351.40 143.79,356.70 144.25,351.96 144.71,352.20 145.17,353.54 145.63,353.91 146.09,352.61 146.56,352.37 147.02,353.28 147.48,353.02 147.94,353.03 148.40,353.35 148.86,352.96 149.32,352.41 149.78,351.15 150.24,352.02 150.70,353.58 151.16,350.85 151.62,351.43 152.08,353.29 152.55,351.71 153.01,353.71 153.47,354.03 153.93,354.03 154.39,351.10 154.85,353.01 155.31,352.82 155.77,353.18 156.23,355.79 156.69,352.72 157.15,352.52 157.61,350.93 158.08,354.52 158.54,351.55 159.00,352.68 159.46,355.75 159.92,352.37 160.38,351.60 160.84,352.30 161.30,353.41 161.76,353.56 162.22,356.31 162.68,353.44 163.14,353.66 163.60,355.11 164.07,353.73 164.53,354.86 164.99,351.22 165.45,355.66 165.91,355.30 166.37,356.95 166.83,354.77 167.29,354.18 167.75,354.36 168.21,355.23 168.67,353.36 169.13,357.15 169.60,353.06 170.06,354.75 170.52,356.88 170.98,354.89 171.44,356.03 171.90,353.75 172.36,355.61 172.82,355.20 173.28,354.96 173.74,356.91 174.20,355.52 174.66,355.25 175.12,355.85 175.59,355.38 176.05,355.01 176.51,356.11 176.97,355.68 177.43,354.79 177.89,355.87 178.35,355.37 178.81,355.66 179.27,356.84 179.73,357.20 180.19,353.10 180.65,353.90 181.12,355.83 181.58,354.52 182.04,354.36 182.50,354.58 182.96,356.29 183.42,357.68 183.88,360.50 184.34,356.24 184.80,354.27 185.26,354.04 185.72,356.35 186.18,356.50 186.64,354.59 187.11,353.54 187.57,357.34 188.03,355.62 188.49,356.06 188.95,356.68 189.41,356.71 189.87,356.76 190.33,356.38 190.79,361.78 191.25,356.44 191.71,355.47 192.17,355.55 192.64,355.53 193.10,356.14 193.56,356.35 194.02,354.17 194.48,359.37 194.94,360.21 195.40,355.14 195.86,356.70 196.32,358.41 196.78,357.50 197.24,357.38 197.70,357.06 198.16,357.47 198.63,355.68 199.09,356.06 199.55,356.37 200.01,357.52 200.47,355.75 200.93,355.82 201.39,354.33 201.85,357.89 202.31,357.29 202.77,359.12 203.23,359.07 203.69,356.89 204.16,356.97 204.62,357.21 205.08,358.49 205.54,357.28 206.00,359.23 206.46,355.88 206.92,358.02 207.38,357.24 207.84,357.48 208.30,357.25 208.76,357.36 209.22,357.01 209.68,358.02 210.15,357.55 210.61,359.01 211.07,358.96 211.53,358.74 211.99,360.49 212.45,359.44 212.91,358.53 213.37,356.97 213.83,357.27 214.29,358.34 214.75,357.44 215.21,357.40 215.68,354.51 216.14,359.90 216.60,357.61 217.06,359.59 217.52,359.20 217.98,358.25 218.44,357.45 218.90,357.77 219.36,357.16 219.82,361.73 220.28,359.54 220.74,358.00 221.20,359.80 221.67,357.45 222.13,356.62 222.59,359.82 223.05,358.75 223.51,357.44 223.97,355.97 224.43,357.00 224.89,357.38 225.35,359.41 225.81,358.30 226.27,358.19 226.73,359.13 227.20,357.87 227.66,358.81 228.12,358.99 228.58,355.78 229.04,358.69 229.50,356.14 229.96,359.00 230.42,358.63 230.88,360.13 231.34,359.31 231.80,356.61 232.26,358.61 232.72,361.16 233.19,356.88 233.65,359.81 234.11,359.24 234.57,358.79 235.03,361.12 235.49,356.83 235.95,357.18 236.41,359.23 236.87,358.39 237.33,359.22 237.79,359.62 238.25,359.19 238.72,360.72 239.18,359.44 239.64,360.42 240.10,356.55 240.56,360.82 241.02,357.40 241.48,358.11 241.94,358.84 242.40,359.80 242.86,356.78 243.32,357.24 243.78,359.14 244.24,359.35 244.71,358.88 245.17,356.83 245.63,360.29 246.09,359.06 246.55,357.75 247.01,360.94 247.47,359.31 247.93,357.81 248.39,359.78 248.85,359.39 249.31,361.21 249.77,358.79 250.24,360.77 250.70,359.79 251.16,358.89 251.62,360.03 252.08,358.24 252.54,359.42 253.00,358.75" fill="none" stroke="#4070d0" stroke-width="0.95" stroke-linejoin="round" />
<polyline points="23.06,218.83 23.52,220.76 23.98,222.67 24.44,224.57 24.90,226.47 25.36,228.34 25.83,230.20 26.29,232.05 26.75,233.88 27.21,235.69 27.67,237.46 28.13,239.21 28.59,240.92 29.05,242.62 29.51,244.30 29.97,245.97 30.43,247.63 30.89,249.29 31.36,250.95 31.82,252.62 32.28,254.31 32.74,256.01 33.20,257.74 33.66,259.50 34.12,261.29 34.58,263.12 35.04,265.00 35.50,266.93 35.96,268.91 36.42,270.93 36.88,273.00 37.35,275.09 37.81,277.21 38.27,279.34 38.73,281.47 39.19,283.61 39.65,285.73 40.11,287.91 40.57,290.22 41.03,292.57 41.49,294.89 41.95,297.16 42.41,299.27 42.88,300.85 43.34,302.49 43.80,303.84 44.26,305.23 44.72,306.90 45.18,307.51 45.64,308.10 46.10,309.99 46.56,310.55 47.02,312.07 47.48,312.08 47.94,313.24 48.40,313.87 48.87,315.17 49.33,314.56 49.79,317.50 50.25,318.21 50.71,319.26 51.17,318.41 51.63,321.65 52.09,321.28 52.55,320.16 53.01,323.13 53.47,321.53 53.93,326.21 54.40,324.55 54.86,325.22 55.32,325.88 55.78,328.43 56.24,322.96 56.70,326.09 57.16,327.07 57.62,325.68 58.08,326.89 58.54,327.23 59.00,328.65 59.46,328.16 59.92,327.99 60.39,332.23 60.85,331.28 61.31,328.20 61.77,328.82 62.23,330.84 62.69,331.77 63.15,330.99 63.61,332.51 64.07,331.67 64.53,329.38 64.99,331.52 65.45,330.43 65.92,332.39 66.38,331.84 66.84,330.75 67.30,334.38 67.76,333.31 68.22,334.64 68.68,332.86 69.14,331.42 69.60,332.68 70.06,335.59 70.52,334.19 70.98,335.13 71.44,335.30 71.91,331.71 72.37,335.76 72.83,334.24 73.29,335.57 73.75,333.70 74.21,334.45 74.67,335.28 75.13,335.21 75.59,333.78 76.05,336.50 76.51,336.34 76.97,336.93 77.44,333.92 77.90,336.08 78.36,337.12 78.82,336.44 79.28,332.86 79.74,336.26 80.20,335.16 80.66,335.76 81.12,336.48 81.58,337.45 82.04,337.11 82.50,337.25 82.96,339.71 83.43,333.75 83.89,337.72 84.35,337.12 84.81,337.64 85.27,338.50 85.73,336.41 86.19,337.97 86.65,337.24 87.11,339.72 87.57,337.60 88.03,335.66 88.49,338.67 88.96,337.40 89.42,338.49 89.88,337.24 90.34,338.96 90.80,338.78 91.26,339.68 91.72,338.71 92.18,339.12 92.64,340.06 93.10,338.80 93.56,338.93 94.02,340.70 94.48,339.81 94.95,336.07 95.41,338.82 95.87,339.82 96.33,340.59 96.79,340.69 97.25,343.33 97.71,342.69 98.17,342.28 98.63,340.10 99.09,339.27 99.55,343.33 100.01,339.25 100.48,342.29 100.94,340.49 101.40,340.30 101.86,340.41 102.32,341.02 102.78,340.89 103.24,342.62 103.70,340.89 104.16,340.07 104.62,340.21 105.08,338.14 105.54,340.14 106.00,340.66 106.47,339.54 106.93,341.40 107.39,343.41 107.85,344.67 108.31,340.28 108.77,341.24 109.23,340.95 109.69,342.51 110.15,344.91 110.61,339.82 111.07,341.84 111.53,343.74 112.00,346.60 112.46,340.69 112.92,343.88 113.38,345.83 113.84,346.03 114.30,344.37 114.76,341.72 115.22,343.93 115.68,343.80 116.14,344.53 116.60,343.10 117.06,343.22 117.52,343.79 117.99,343.44 118.45,344.15 118.91,340.96 119.37,346.29 119.83,343.20 120.29,344.69 120.75,342.57 121.21,343.82 121.67,343.11 122.13,342.96 122.59,346.89 123.05,342.48 123.52,345.55 123.98,342.63 124.44,345.11 124.90,343.46 125.36,342.02 125.82,343.99 126.28,341.57 126.74,346.98 127.20,345.38 127.66,343.00 128.12,345.69 128.58,344.54 129.04,342.18 129.51,343.28 129.97,346.04 130.43,343.89 130.89,343.75 131.35,346.90 131.81,344.69 132.27,344.42 132.73,346.53 133.19,344.50 133.65,345.91 134.11,344.22 134.57,344.20 135.04,345.90 135.50,344.02 135.96,344.37 136.42,344.90 136.88,343.95 137.34,345.29 137.80,345.28 138.26,344.85 138.72,345.04 139.18,343.54 139.64,348.02 140.10,345.43 140.56,347.61 141.03,345.74 141.49,344.80 141.95,345.15 142.41,343.95 142.87,344.79 143.33,348.69 143.79,346.66 144.25,343.30 144.71,343.32 145.17,345.19 145.63,347.30 146.09,342.61 146.56,348.03 147.02,345.01 147.48,345.49 147.94,345.14 148.40,346.95 148.86,346.00 149.32,344.15 149.78,346.15 150.24,347.30 150.70,345.59 151.16,345.48 151.62,345.79 152.08,346.63 152.55,344.97 153.01,345.83 153.47,347.18 153.93,345.43 154.39,345.77 154.85,345.56 155.31,347.93 155.77,346.76 156.23,345.22 156.69,344.64 157.15,345.40 157.61,347.16 158.08,344.95 158.54,344.64 159.00,343.66 159.46,345.32 159.92,346.65 160.38,345.34 160.84,348.44 161.30,345.92 161.76,346.57 162.22,346.06 162.68,345.43 163.14,347.39 163.60,347.93 164.07,346.57 164.53,348.77 164.99,346.19 165.45,345.73 165.91,347.43 166.37,345.31 166.83,344.61 167.29,346.63 167.75,345.39 168.21,348.22 168.67,347.05 169.13,345.17 169.60,348.66 170.06,347.09 170.52,347.61 170.98,345.04 171.44,345.07 171.90,347.34 172.36,349.58 172.82,350.29 173.28,345.55 173.74,346.21 174.20,345.00 174.66,349.73 175.12,346.29 175.59,347.32 176.05,350.08 176.51,347.68 176.97,347.24 177.43,345.83 177.89,346.62 178.35,347.54 178.81,346.59 179.27,347.07 179.73,350.45 180.19,348.26 180.65,346.80 181.12,346.81 181.58,344.69 182.04,349.65 182.50,345.03 182.96,346.63 183.42,345.59 183.88,348.25 184.34,348.22 184.80,347.51 185.26,346.35 185.72,346.92 186.18,346.20 186.64,346.76 187.11,345.87 187.57,346.93 188.03,349.28 188.49,346.54 188.95,347.09 189.41,345.00 189.87,347.42 190.33,347.39 190.79,347.62 191.25,345.78 191.71,346.15 192.17,346.44 192.64,348.85 193.10,349.20 193.56,349.13 194.02,346.38 194.48,345.43 194.94,349.58 195.40,347.53 195.86,349.46 196.32,348.55 196.78,347.62 197.24,346.13 197.70,348.02 198.16,348.27 198.63,347.78 199.09,345.79 199.55,344.33 200.01,349.35 200.47,347.75 200.93,347.95 201.39,345.94 201.85,346.87 202.31,345.48 202.77,348.72 203.23,350.45 203.69,348.03 204.16,348.85 204.62,347.66 205.08,348.97 205.54,344.73 206.00,346.96 206.46,348.78 206.92,348.27 207.38,345.31 207.84,348.12 208.30,347.22 208.76,346.79 209.22,349.64 209.68,346.73 210.15,347.81 210.61,348.30 211.07,349.80 211.53,347.62 211.99,350.61 212.45,348.03 212.91,347.76 213.37,353.14 213.83,344.84 214.29,348.23 214.75,348.91 215.21,348.36 215.68,347.83 216.14,346.68 216.60,350.70 217.06,346.98 217.52,348.42 217.98,347.87 218.44,346.36 218.90,346.68 219.36,348.51 219.82,347.78 220.28,345.29 220.74,345.95 221.20,346.57 221.67,347.67 222.13,346.46 222.59,347.18 223.05,348.39 223.51,348.96 223.97,347.04 224.43,347.22 224.89,346.18 225.35,348.32 225.81,345.94 226.27,348.18 226.73,346.13 227.20,347.04 227.66,348.46 228.12,348.94 228.58,347.89 229.04,348.08 229.50,346.56 229.96,348.63 230.42,349.63 230.88,347.78 231.34,345.33 231.80,345.69 232.26,348.56 232.72,348.12 233.19,347.37 233.65,348.62 234.11,348.09 234.57,348.13 235.03,351.18 235.49,348.57 235.95,348.41 236.41,347.50 236.87,351.47 237.33,347.67 237.79,349.05 238.25,348.83 238.72,349.23 239.18,342.73 239.64,346.22 240.10,346.18 240.56,346.79 241.02,348.12 241.48,347.74 241.94,347.46 242.40,347.26 242.86,347.08 243.32,345.90 243.78,351.58 244.24,348.54 244.71,346.98 245.17,348.29 245.63,348.04 246.09,345.95 246.55,351.24 247.01,345.59 247.47,347.90 247.93,347.54 248.39,349.19 248.85,350.36 249.31,348.38 249.77,347.77 250.24,348.29 250.70,349.55 251.16,347.02 251.62,347.76 252.08,347.84 252.54,348.83 253.00,345.76" fill="none" stroke="#ff1414" stroke-width="0.95" stroke-linejoin="round" />
<polyline points="23.06,217.02 23.52,217.13 23.98,217.23 24.44,217.34 24.90,217.45 25.36,217.56 25.83,217.67 26.29,217.78 26.75,217.89 27.21,218.00 27.67,218.11 28.13,218.23 28.59,218.34 29.05,218.46 29.51,218.58 29.97,218.69 30.43,218.81 30.89,218.93 31.36,219.06 31.82,219.18 32.28,219.30 32.74,219.43 33.20,219.55 33.66,219.68 34.12,219.81 34.58,219.94 35.04,220.07 35.50,220.20 35.96,220.34 36.42,220.47 36.88,220.61 37.35,220.75 37.81,220.89 38.27,221.03 38.73,221.17 39.19,221.32 39.65,221.46 40.11,221.61 40.57,221.76 41.03,221.91 41.49,222.06 41.95,222.22 42.41,222.37 42.88,222.53 43.34,222.69 43.80,222.85 44.26,223.01 44.72,223.18 45.18,223.34 45.64,223.51 46.10,223.68 46.56,223.85 47.02,224.02 47.48,224.20 47.94,224.38 48.40,224.56 48.87,224.74 49.33,224.92 49.79,225.11 50.25,225.29 50.71,225.48 51.17,225.68 51.63,225.87 52.09,226.07 52.55,226.26 53.01,226.46 53.47,226.67 53.93,226.87 54.40,227.08 54.86,227.29 55.32,227.50 55.78,227.71 56.24,227.93 56.70,228.15 57.16,228.37 57.62,228.59 58.08,228.82 58.54,229.05 59.00,229.28 59.46,229.51 59.92,229.75 60.39,229.99 60.85,230.23 61.31,230.47 61.77,230.72 62.23,230.97 62.69,231.22 63.15,231.47 63.61,231.73 64.07,231.99 64.53,232.25 64.99,232.52 65.45,232.79 65.92,233.06 66.38,233.33 66.84,233.61 67.30,233.89 67.76,234.17 68.22,234.46 68.68,234.75 69.14,235.04 69.60,235.33 70.06,235.63 70.52,235.93 70.98,236.24 71.44,236.54 71.91,236.85 72.37,237.17 72.83,237.48 73.29,237.80 73.75,238.13 74.21,238.45 74.67,238.78 75.13,239.11 75.59,239.45 76.05,239.79 76.51,240.13 76.97,240.48 77.44,240.83 77.90,241.18 78.36,241.53 78.82,241.89 79.28,242.25 79.74,242.62 80.20,242.98 80.66,243.36 81.12,243.73 81.58,244.11 82.04,244.49 82.50,244.87 82.96,245.25 83.43,245.64 83.89,246.03 84.35,246.43 84.81,246.83 85.27,247.23 85.73,247.63 86.19,248.04 86.65,248.44 87.11,248.86 87.57,249.27 88.03,249.69 88.49,250.11 88.96,250.53 89.42,250.96 89.88,251.38 90.34,251.81 90.80,252.25 91.26,252.68 91.72,253.12 92.18,253.56 92.64,254.01 93.10,254.45 93.56,254.90 94.02,255.35 94.48,255.81 94.95,256.26 95.41,256.72 95.87,257.19 96.33,257.65 96.79,258.12 97.25,258.58 97.71,259.06 98.17,259.53 98.63,260.01 99.09,260.48 99.55,260.96 100.01,261.45 100.48,261.93 100.94,262.42 101.40,262.91 101.86,263.40 102.32,263.89 102.78,264.39 103.24,264.89 103.70,265.39 104.16,265.89 104.62,266.40 105.08,266.90 105.54,267.41 106.00,267.92 106.47,268.44 106.93,268.95 107.39,269.47 107.85,269.99 108.31,270.51 108.77,271.03 109.23,271.56 109.69,272.08 110.15,272.61 110.61,273.14 111.07,273.68 111.53,274.21 112.00,274.75 112.46,275.28 112.92,275.82 113.38,276.37 113.84,276.91 114.30,277.45 114.76,278.00 115.22,278.55 115.68,279.10 116.14,279.65 116.60,280.20 117.06,280.76 117.52,281.32 117.99,281.87 118.45,282.43 118.91,283.00 119.37,283.56 119.83,284.12 120.29,284.69 120.75,285.26 121.21,285.83 121.67,286.40 122.13,286.97 122.59,287.54 123.05,288.11 123.52,288.69 123.98,289.27 124.44,289.85 124.90,290.43 125.36,291.01 125.82,291.59 126.28,292.17 126.74,292.76 127.20,293.34 127.66,293.93 128.12,294.52 128.58,294.32 129.04,294.76 129.51,295.18 129.97,296.03 130.43,296.35 130.89,297.33 131.35,298.60 131.81,298.57 132.27,299.16 132.73,300.34 133.19,300.71 133.65,302.61 134.11,302.94 134.57,304.12 135.04,303.92 135.50,304.54 135.96,305.23 136.42,304.55 136.88,304.28 137.34,306.83 137.80,306.10 138.26,306.18 138.72,306.75 139.18,306.61 139.64,309.15 140.10,307.48 140.56,306.10 141.03,307.87 141.49,310.02 141.95,308.55 142.41,307.93 142.87,309.28 143.33,310.66 143.79,308.19 144.25,311.92 144.71,309.89 145.17,310.73 145.63,312.41 146.09,309.53 146.56,310.81 147.02,312.90 147.48,310.83 147.94,312.31 148.40,314.34 148.86,312.97 149.32,311.94 149.78,311.63 150.24,312.40 150.70,312.72 151.16,312.36 151.62,313.39 152.08,311.82 152.55,315.91 153.01,313.30 153.47,313.18 153.93,315.39 154.39,315.15 154.85,312.52 155.31,315.00 155.77,315.23 156.23,314.65 156.69,315.91 157.15,315.17 157.61,316.58 158.08,315.61 158.54,318.18 159.00,314.72 159.46,317.28 159.92,318.86 160.38,317.37 160.84,317.78 161.30,317.34 161.76,319.21 162.22,317.48 162.68,313.63 163.14,320.05 163.60,318.23 164.07,319.27 164.53,318.85 164.99,321.61 165.45,320.99 165.91,319.16 166.37,320.01 166.83,318.11 167.29,321.28 167.75,320.39 168.21,317.14 168.67,322.01 169.13,322.40 169.60,321.52 170.06,321.74 170.52,320.83 170.98,321.95 171.44,323.73 171.90,322.28 172.36,319.42 172.82,321.37 173.28,326.71 173.74,323.59 174.20,324.73 174.66,324.16 175.12,324.27 175.59,321.81 176.05,323.29 176.51,323.56 176.97,324.66 177.43,326.15 177.89,324.89 178.35,323.89 178.81,325.06 179.27,326.39 179.73,324.54 180.19,326.12 180.65,326.67 181.12,327.78 181.58,327.70 182.04,328.00 182.50,330.93 182.96,326.32 183.42,327.09 183.88,328.28 184.34,326.89 184.80,327.86 185.26,328.14 185.72,331.95 186.18,329.31 186.64,328.54 187.11,327.37 187.57,327.27 188.03,328.00 188.49,331.47 188.95,332.97 189.41,329.66 189.87,330.55 190.33,329.56 190.79,331.13 191.25,330.88 191.71,334.27 192.17,330.98 192.64,332.30 193.10,331.49 193.56,331.54 194.02,332.46 194.48,334.55 194.94,332.71 195.40,331.92 195.86,332.44 196.32,333.96 196.78,334.20 197.24,331.43 197.70,333.96 198.16,332.76 198.63,333.70 199.09,335.10 199.55,336.36 200.01,334.61 200.47,334.62 200.93,334.73 201.39,336.92 201.85,336.25 202.31,335.80 202.77,333.84 203.23,339.03 203.69,335.67 204.16,337.09 204.62,336.05 205.08,337.40 205.54,336.49 206.00,335.15 206.46,336.87 206.92,336.94 207.38,337.20 207.84,338.80 208.30,337.34 208.76,338.47 209.22,340.03 209.68,338.61 210.15,339.03 210.61,337.96 211.07,339.15 211.53,339.94 211.99,337.60 212.45,338.37 212.91,338.19 213.37,339.20 213.83,340.28 214.29,340.84 214.75,340.84 215.21,339.46 215.68,340.69 216.14,345.61 216.60,341.22 217.06,343.13 217.52,341.30 217.98,343.20 218.44,343.44 218.90,341.85 219.36,342.27 219.82,345.67 220.28,341.55 220.74,339.92 221.20,344.69 221.67,340.68 222.13,344.01 222.59,343.92 223.05,343.69 223.51,345.45 223.97,342.13 224.43,343.31 224.89,345.04 225.35,344.60 225.81,346.33 226.27,345.01 226.73,343.54 227.20,347.05 227.66,345.59 228.12,345.01 228.58,344.02 229.04,343.80 229.50,346.24 229.96,346.76 230.42,345.41 230.88,346.59 231.34,346.68 231.80,345.08 232.26,344.47 232.72,346.43 233.19,347.17 233.65,346.36 234.11,349.63 234.57,347.42 235.03,348.90 235.49,344.70 235.95,346.97 236.41,347.86 236.87,348.45 237.33,351.55 237.79,347.63 238.25,346.63 238.72,349.78 239.18,348.16 239.64,348.28 240.10,351.32 240.56,348.34 241.02,347.98 241.48,349.58 241.94,350.12 242.40,349.21 242.86,352.33 243.32,350.44 243.78,349.40 244.24,352.48 244.71,349.83 245.17,352.83 245.63,354.08 246.09,351.76 246.55,353.04 247.01,351.58 247.47,353.66 247.93,353.26 248.39,356.17 248.85,352.27 249.31,353.66 249.77,353.51 250.24,351.77 250.70,353.20 251.16,354.16 251.62,355.43 252.08,352.57 252.54,353.29 253.00,354.82" fill="none" stroke="#0a0a0a" stroke-width="0.95" stroke-linejoin="round" />
<path d="M68.68 378.00v-2.4M68.68 216.90v2.4M114.76 378.00v-2.4M114.76 216.90v2.4M160.84 378.00v-2.4M160.84 216.90v2.4M206.92 378.00v-2.4M206.92 216.90v2.4M253.00 378.00v-2.4M253.00 216.90v2.4M22.60 378.00h2.4M253.00 378.00h-2.4M22.60 354.99h2.4M253.00 354.99h-2.4M22.60 331.97h2.4M253.00 331.97h-2.4M22.60 308.96h2.4M253.00 308.96h-2.4M22.60 285.94h2.4M253.00 285.94h-2.4M22.60 262.93h2.4M253.00 262.93h-2.4M22.60 239.91h2.4M253.00 239.91h-2.4M22.60 216.90h2.4M253.00 216.90h-2.4" stroke="#3d3d3d" stroke-width="0.9" fill="none"/>
<rect x="22.6" y="216.9" width="230.40" height="161.10" fill="none" stroke="#3d3d3d" stroke-width="1.15"/>
<text x="20.90" y="358.39" font-family='"Liberation Serif", serif' font-size="7.0" text-anchor="end" fill="#4a4a4a" stroke="#4a4a4a" stroke-width="0.2" >0.2</text>
<text x="20.90" y="335.37" font-family='"Liberation Serif", serif' font-size="7.0" text-anchor="end" fill="#4a4a4a" stroke="#4a4a4a" stroke-width="0.2" >0.4</text>
<text x="20.90" y="312.36" font-family='"Liberation Serif", serif' font-size="7.0" text-anchor="end" fill="#4a4a4a" stroke="#4a4a4a" stroke-width="0.2" >0.6</text>
<text x="20.90" y="289.34" font-family='"Liberation Serif", serif' font-size="7.0" text-anchor="end" fill="#4a4a4a" stroke="#4a4a4a" stroke-width="0.2" >0.8</text>
<text x="20.90" y="266.33" font-family='"Liberation Serif", serif' font-size="7.0" text-anchor="end" fill="#4a4a4a" stroke="#4a4a4a" stroke-width="0.2" >1</text>
<text x="20.90" y="243.31" font-family='"Liberation Serif", serif' font-size="7.0" text-anchor="end" fill="#4a4a4a" stroke="#4a4a4a" stroke-width="0.2" >1.2</text>
<text x="20.90" y="220.30" font-family='"Liberation Serif", serif' font-size="7.0" text-anchor="end" fill="#4a4a4a" stroke="#4a4a4a" stroke-width="0.2" >1.4</text>
<text x="20.00" y="382.60" font-family='"Liberation Serif", serif' font-size="7.0" text-anchor="end" fill="#4a4a4a" stroke="#4a4a4a" stroke-width="0.2" >0</text>
<text x="68.98" y="388.20" font-family='"Liberation Serif", serif' font-size="7.0" text-anchor="middle" fill="#4a4a4a" stroke="#4a4a4a" stroke-width="0.2" >100</text>
<text x="115.06" y="388.20" font-family='"Liberation Serif", serif' font-size="7.0" text-anchor="middle" fill="#4a4a4a" stroke="#4a4a4a" stroke-width="0.2" >200</text>
<text x="161.14" y="388.20" font-family='"Liberation Serif", serif' font-size="7.0" text-anchor="middle" fill="#4a4a4a" stroke="#4a4a4a" stroke-width="0.2" >300</text>
<text x="207.22" y="388.20" font-family='"Liberation Serif", serif' font-size="7.0" text-anchor="middle" fill="#4a4a4a" stroke="#4a4a4a" stroke-width="0.2" >400</text>
<text x="253.30" y="388.20" font-family='"Liberation Serif", serif' font-size="7.0" text-anchor="middle" fill="#4a4a4a" stroke="#4a4a4a" stroke-width="0.2" >500</text>
<text x="127.90" y="393.40" font-family='"Liberation Serif", serif' font-size="9.0" text-anchor="start" fill="#111" textLength="22.40" lengthAdjust="spacingAndGlyphs" stroke="#111" stroke-width="0.2" >epoch</text>
<text x="0.00" y="0.00" font-family='"Liberation Serif", serif' font-size="9.2" text-anchor="middle" fill="#111" textLength="14.40" lengthAdjust="spacingAndGlyphs" stroke="#111" stroke-width="0.2" transform="translate(10.3,297.8) rotate(-90)">loss</text>
<rect x="145.4" y="224.0" width="100.40" height="31.20" fill="#fff" stroke="#333" stroke-width="0.9"/>
<line x1="150.0" y1="229.21" x2="160.7" y2="229.21" stroke="#555" stroke-width="1.1"/>
<text x="165.90" y="231.40" font-family='"Liberation Serif", serif' font-size="7.3" text-anchor="start" fill="#111" textLength="73.60" lengthAdjust="spacingAndGlyphs" stroke="#111" stroke-width="0.18">PSO-BILSTM-Adaboost</text>
<line x1="150.0" y1="236.31" x2="160.7" y2="236.31" stroke="#9d8" stroke-width="1.1"/>
<text x="165.90" y="238.50" font-family='"Liberation Serif", serif' font-size="7.3" text-anchor="start" fill="#111" textLength="77.68" lengthAdjust="spacingAndGlyphs" stroke="#111" stroke-width="0.18">WOA-BILSTM-Adaboost</text>
<line x1="150.0" y1="243.41" x2="160.7" y2="243.41" stroke="#f77" stroke-width="1.1"/>
<text x="165.90" y="245.60" font-family='"Liberation Serif", serif' font-size="7.3" text-anchor="start" fill="#111" textLength="73.60" lengthAdjust="spacingAndGlyphs" stroke="#111" stroke-width="0.18">SSA-BILSTM-Adaboost</text>
<line x1="150.0" y1="249.91" x2="160.7" y2="249.91" stroke="#9ae" stroke-width="1.1"/>
<text x="165.90" y="252.10" font-family='"Liberation Serif", serif' font-size="7.3" text-anchor="start" fill="#111" textLength="73.60" lengthAdjust="spacingAndGlyphs" stroke="#111" stroke-width="0.18">GJO-BILSTM-Adaboost</text>
<polyline points="311.50,217.21 311.95,217.25 312.40,217.29 312.85,217.34 313.30,217.38 313.75,217.43 314.20,217.48 314.65,217.53 315.10,217.59 315.55,217.64 316.00,217.70 316.45,217.76 316.90,217.82 317.35,217.88 317.80,217.94 318.25,218.01 318.70,218.07 319.15,218.14 319.60,218.21 320.05,218.28 320.50,218.36 320.95,218.43 321.40,218.51 321.85,218.59 322.30,218.67 322.75,218.75 323.20,218.84 323.65,218.92 324.10,219.01 324.55,219.10 325.00,219.19 325.45,219.28 325.90,219.38 326.35,219.48 326.80,219.57 327.25,219.67 327.70,219.78 328.15,219.88 328.60,219.99 329.05,220.09 329.50,220.20 329.95,220.31 330.40,220.42 330.85,220.54 331.30,220.66 331.75,220.77 332.20,220.89 332.65,221.01 333.10,221.14 333.55,221.26 334.00,221.39 334.45,221.52 334.90,221.65 335.35,221.78 335.80,221.92 336.25,222.05 336.70,222.19 337.15,222.33 337.60,222.48 338.05,222.62 338.50,222.76 338.95,222.91 339.40,223.06 339.85,223.21 340.30,223.37 340.75,223.52 341.20,223.68 341.65,223.84 342.10,224.00 342.55,224.16 343.00,224.33 343.45,224.49 343.90,224.66 344.35,224.83 344.80,225.00 345.25,225.18 345.70,225.36 346.15,225.53 346.60,225.71 347.05,225.90 347.50,226.08 347.95,226.27 348.40,226.45 348.85,226.64 349.30,226.84 349.75,227.03 350.20,227.23 350.65,227.42 351.10,227.62 351.55,227.83 352.00,228.03 352.45,228.24 352.90,228.44 353.35,228.65 353.80,228.87 354.25,229.08 354.70,229.30 355.15,229.51 355.60,229.73 356.05,229.95 356.50,230.18 356.95,230.41 357.40,230.63 357.85,230.86 358.30,231.10 358.75,231.33 359.20,231.57 359.65,231.80 360.10,232.04 360.55,232.29 361.00,232.53 361.45,232.78 361.90,233.03 362.35,233.28 362.80,233.53 363.25,233.79 363.70,234.04 364.15,234.30 364.60,234.56 365.05,234.83 365.50,235.09 365.95,235.36 366.40,235.63 366.85,235.90 367.30,236.17 367.75,236.44 368.20,236.72 368.65,237.00 369.10,237.28 369.55,237.56 370.00,237.84 370.45,238.13 370.90,238.41 371.35,238.70 371.80,238.99 372.25,239.29 372.70,239.58 373.15,239.88 373.60,240.17 374.05,240.47 374.50,240.77 374.95,241.07 375.40,241.38 375.85,241.68 376.30,241.99 376.75,242.30 377.20,242.61 377.65,242.92 378.10,243.23 378.55,243.54 379.00,243.86 379.45,244.18 379.90,244.49 380.35,244.81 380.80,245.14 381.25,245.46 381.70,245.78 382.15,246.11 382.60,246.43 383.05,246.76 383.50,247.09 383.95,247.42 384.40,247.75 384.85,248.08 385.30,248.42 385.75,248.75 386.20,249.09 386.65,249.43 387.10,249.76 387.55,250.10 388.00,250.44 388.45,250.79 388.90,251.13 389.35,251.47 389.80,251.82 390.25,252.16 390.70,252.51 391.15,252.86 391.60,253.21 392.05,253.56 392.50,253.91 392.95,254.26 393.40,254.61 393.85,254.96 394.30,255.32 394.75,255.67 395.20,256.03 395.65,256.39 396.10,256.74 396.55,257.10 397.00,257.46 397.45,257.82 397.90,258.18 398.35,258.54 398.80,258.90 399.25,259.26 399.70,259.63 400.15,259.99 400.60,260.36 401.05,260.72 401.50,261.09 401.95,261.45 402.40,261.82 402.85,262.18 403.30,262.55 403.75,262.92 404.20,263.29 404.65,263.66 405.10,264.03 405.55,264.40 406.00,264.77 406.45,265.14 406.90,265.51 407.35,265.88 407.80,266.25 408.25,266.62 408.70,266.99 409.15,267.36 409.60,267.74 410.05,268.11 410.50,268.48 410.95,268.85 411.40,269.23 411.85,269.60 412.30,269.97 412.75,270.35 413.20,270.72 413.65,271.09 414.10,271.47 414.55,271.84 415.00,272.21 415.45,272.59 415.90,272.96 416.35,273.33 416.80,273.71 417.25,274.08 417.70,274.45 418.15,274.83 418.60,275.20 419.05,275.57 419.50,275.95 419.95,276.32 420.40,276.69 420.85,277.06 421.30,277.44 421.75,277.81 422.20,278.18 422.65,278.55 423.10,278.92 423.55,279.29 424.00,279.66 424.45,280.03 424.90,280.40 425.35,280.77 425.80,281.14 426.25,281.50 426.70,281.87 427.15,282.24 427.60,282.61 428.05,282.97 428.50,283.34 428.95,283.70 429.40,284.07 429.85,284.43 430.30,284.79 430.75,285.16 431.20,285.52 431.65,285.88 432.10,286.24 432.55,286.60 433.00,286.96 433.45,287.32 433.90,287.67 434.35,288.03 434.80,288.39 435.25,288.74 435.70,289.10 436.15,289.45 436.60,289.80 437.05,290.15 437.50,290.50 437.95,290.85 438.40,291.20 438.85,291.55 439.30,291.90 439.75,292.24 440.20,292.59 440.65,292.93 441.10,293.28 441.55,293.62 442.00,293.96 442.45,294.30 442.90,294.64 443.35,294.98 443.80,295.31 444.25,295.65 444.70,295.98 445.15,296.31 445.60,296.65 446.05,296.98 446.50,297.30 446.95,297.63 447.40,297.96 447.85,298.28 448.30,298.61 448.75,298.93 449.20,299.25 449.65,299.57 450.10,299.89 450.55,300.21 451.00,300.52 451.45,300.83 451.90,301.15 452.35,301.46 452.80,301.77 453.25,302.08 453.70,302.38 454.15,302.69 454.60,303.00 455.05,303.30 455.50,303.60 455.95,303.90 456.40,304.20 456.85,304.50 457.30,304.80 457.75,305.10 458.20,305.39 458.65,305.69 459.10,305.98 459.55,306.27 460.00,306.56 460.45,306.85 460.90,307.14 461.35,307.43 461.80,307.71 462.25,308.00 462.70,308.28 463.15,308.57 463.60,308.85 464.05,309.13 464.50,309.41 464.95,309.69 465.40,309.97 465.85,310.25 466.30,310.53 466.75,310.80 467.20,311.08 467.65,311.35 468.10,311.63 468.55,311.90 469.00,312.17 469.45,312.44 469.90,312.71 470.35,312.98 470.80,313.25 471.25,313.52 471.70,313.79 472.15,314.06 472.60,314.32 473.05,314.59 473.50,314.85 473.95,315.12 474.40,315.38 474.85,315.65 475.30,315.91 475.75,316.17 476.20,316.43 476.65,316.69 477.10,316.95 477.55,317.21 478.00,317.47 478.45,317.73 478.90,317.99 479.35,318.25 479.80,318.51 480.25,318.76 480.70,319.02 481.15,319.28 481.60,319.53 482.05,319.79 482.50,320.04 482.95,320.30 483.40,320.55 483.85,320.81 484.30,321.06 484.75,321.32 485.20,321.57 485.65,321.82 486.10,322.08 486.55,322.33 487.00,322.58 487.45,322.83 487.90,323.09 488.35,323.34 488.80,323.59 489.25,323.84 489.70,324.09 490.15,324.35 490.60,324.60 491.05,324.85 491.50,325.10 491.95,325.35 492.40,325.60 492.85,325.86 493.30,326.11 493.75,326.36 494.20,326.61 494.65,326.86 495.10,327.11 495.55,327.37 496.00,327.62 496.45,327.87 496.90,328.12 497.35,328.37 497.80,328.63 498.25,328.88 498.70,329.13 499.15,329.38 499.60,329.64 500.05,329.89 500.50,330.14 500.95,330.40 501.40,330.65 501.85,330.91 502.30,331.16 502.75,331.42 503.20,331.67 503.65,331.93 504.10,332.18 504.55,332.44 505.00,332.70 505.45,332.96 505.90,333.21 506.35,333.47 506.80,333.73 507.25,333.99 507.70,334.25 508.15,334.51 508.60,334.77 509.05,335.03 509.50,335.29 509.95,335.56 510.40,335.82 510.85,336.08 511.30,336.35 511.75,336.61 512.20,336.88 512.65,337.14 513.10,337.41 513.55,337.68 514.00,337.94 536.05,342.73 536.50,342.96" fill="none" stroke="#3c3c3c" stroke-width="0.95" stroke-linejoin="round" />
<polyline points="311.50,217.21 311.95,217.29 312.40,217.39 312.85,217.51 313.30,217.65 313.75,217.81 314.20,217.99 314.65,218.19 315.10,218.41 315.55,218.65 316.00,218.92 316.45,219.20 316.90,219.51 317.35,219.84 317.80,220.20 318.25,220.57 318.70,220.97 319.15,221.40 319.60,221.84 320.05,222.32 320.50,222.81 320.95,223.33 321.40,223.88 321.85,224.45 322.30,225.05 322.75,225.67 323.20,226.32 323.65,227.00 324.10,227.70 324.55,228.43 325.00,229.19 325.45,229.97 325.90,230.78 326.35,231.63 326.80,232.49 327.25,233.38 327.70,234.30 328.15,235.24 328.60,236.20 329.05,237.19 329.50,238.19 329.95,239.21 330.40,240.25 330.85,241.31 331.30,242.38 331.75,243.47 332.20,244.58 332.65,245.69 333.10,246.82 333.55,247.96 334.00,249.11 334.45,250.26 334.90,251.43 335.35,252.60 335.80,253.78 336.25,254.96 336.70,256.15 337.15,257.33 337.60,258.52 338.05,259.71 338.50,260.91 338.95,262.10 339.40,263.29 339.85,264.48 340.30,265.67 340.75,266.86 341.20,268.04 341.65,269.22 342.10,270.40 342.55,271.58 343.00,272.75 343.45,273.91 343.90,275.07 344.35,276.22 344.80,277.37 345.25,278.51 345.70,279.65 346.15,280.77 346.60,281.89 347.05,282.99 347.50,284.09 347.95,285.18 348.40,286.26 348.85,287.32 349.30,288.38 349.75,289.42 350.20,290.45 350.65,291.47 351.10,292.47 351.55,293.46 352.00,294.44 352.45,295.40 352.90,296.34 353.35,297.27 353.80,298.18 354.25,299.07 354.70,299.95 355.15,300.81 355.60,301.65 356.05,302.47 356.50,303.27 356.95,304.05 357.40,304.81 357.85,305.55 358.30,306.27 358.75,306.98 359.20,307.66 359.65,308.33 360.10,308.98 360.55,309.61 361.00,310.23 361.45,310.83 361.90,311.42 362.35,311.99 362.80,312.55 363.25,313.09 363.70,313.62 364.15,314.14 364.60,314.65 365.05,315.14 365.50,315.62 365.95,316.10 366.40,316.56 366.85,317.01 367.30,317.45 367.75,317.89 368.20,318.31 368.65,318.73 369.10,319.14 369.55,319.55 370.00,319.95 370.45,320.34 370.90,320.73 371.35,321.11 371.80,321.49 372.25,321.86 372.70,322.23 373.15,322.60 373.60,322.96 374.05,323.33 374.50,323.69 374.95,324.05 375.40,324.40 375.85,324.76 376.30,325.11 376.75,325.46 377.20,325.81 377.65,326.15 378.10,326.49 378.55,326.84 379.00,327.17 379.45,327.51 379.90,327.84 380.35,328.18 380.80,328.50 381.25,328.83 381.70,329.16 382.15,329.48 382.60,329.80 383.05,330.12 383.50,330.44 383.95,330.75 384.40,331.06 384.85,331.37 385.30,331.68 385.75,331.99 386.20,332.29 386.65,332.59 387.10,332.89 387.55,333.19 388.00,333.48 388.45,333.78 388.90,334.07 389.35,334.36 389.80,334.64 390.25,334.93 390.70,335.21 391.15,335.49 391.60,335.77 392.05,336.05 392.50,336.32 392.95,336.59 393.40,336.86 393.85,337.13 394.30,337.40 394.75,337.67 395.20,337.93 395.65,338.19 396.10,338.45 396.55,338.71 397.00,338.96 397.45,339.21 397.90,339.46 398.35,339.71 398.80,339.96 399.25,340.21 399.70,340.45 400.15,340.69 400.60,340.93 401.05,341.17 401.50,341.41 401.95,341.64 402.40,341.87 402.85,342.10 403.30,342.33 403.75,342.56 404.20,342.79 404.65,343.01 405.10,343.23 405.55,343.45 406.00,343.67 406.45,343.89 406.90,344.10 407.35,344.31 407.80,344.52 408.25,344.73 408.70,344.94 409.15,345.15 409.60,345.35 410.05,345.55 410.50,345.75 410.95,345.95 411.40,346.15 411.85,346.35 412.30,346.54 412.75,346.73 413.20,346.92 413.65,347.11 414.10,347.30 414.55,347.48 415.00,347.67 415.45,347.85 415.90,348.03 416.35,348.21 416.80,348.39 417.25,348.56 417.70,348.74 418.15,348.91 418.60,349.08 419.05,349.25 419.50,349.42 419.95,349.59 420.40,349.75 420.85,349.92 421.30,350.08 421.75,350.24 422.20,350.40 422.65,350.55 423.10,350.71 423.55,350.86 424.00,351.02 424.45,351.17 424.90,351.32 425.35,351.47 425.80,351.62 426.25,351.76 426.70,351.91 427.15,352.05 427.60,352.19 428.05,352.33 428.50,352.47 428.95,352.61 429.40,352.74 429.85,352.88 430.30,353.01 430.75,353.14 431.20,353.27 431.65,353.40 432.10,353.53 432.55,353.65 433.00,353.78 433.45,353.90 433.90,354.02 434.35,354.15 434.80,354.27 435.25,354.38 435.70,354.50 436.15,354.62 436.60,354.73 437.05,354.85 437.50,354.96 437.95,355.07 438.40,355.18 438.85,355.29 439.30,355.39 439.75,355.50 440.20,355.60 440.65,355.71 441.10,355.81 441.55,355.91 442.00,356.01 442.45,356.11 442.90,356.21 443.35,356.30 443.80,356.40 444.25,356.49 444.70,356.59 445.15,356.68 445.60,356.77 446.05,356.86 446.50,356.95 446.95,357.04 447.40,357.12 447.85,357.21 448.30,357.29 448.75,357.38 449.20,357.46 449.65,357.54 450.10,357.62 450.55,357.70 451.00,357.78 451.45,357.85 451.90,357.93 452.35,358.00 452.80,358.08 453.25,358.15 453.70,358.22 454.15,358.29 454.60,358.36 455.05,358.43 455.50,358.50 455.95,358.57 456.40,358.63 456.85,358.70 457.30,358.76 457.75,358.83 458.20,358.89 458.65,358.95 459.10,359.01 459.55,359.07 460.00,359.13 460.45,359.19 460.90,359.25 461.35,359.30 461.80,359.36 462.25,359.42 462.70,359.47 463.15,359.52 463.60,359.57 464.05,359.63 464.50,359.68 464.95,359.73 465.40,359.78 465.85,359.82 466.30,359.87 466.75,359.92 467.20,359.96 467.65,360.01 468.10,360.05 468.55,360.10 469.00,360.14 469.45,360.18 469.90,360.23 470.35,360.27 470.80,360.31 471.25,360.35 471.70,360.39 472.15,360.42 472.60,360.46 473.05,360.50 473.50,360.54 473.95,360.57 474.40,360.61 474.85,360.64 475.30,360.67 475.75,360.71 476.20,360.74 476.65,360.77 477.10,360.80 477.55,360.83 478.00,360.86 478.45,360.89 478.90,360.92 479.35,360.95 479.80,360.98 480.25,361.01 480.70,361.03 481.15,361.06 481.60,361.09 482.05,361.11 482.50,361.14 482.95,361.16 483.40,361.18 483.85,361.21 484.30,361.23 484.75,361.25 485.20,361.28 485.65,361.30 486.10,361.32 486.55,361.34 487.00,361.36 487.45,361.38 487.90,361.40 488.35,361.42 488.80,361.44 489.25,361.46 489.70,361.47 490.15,361.49 490.60,361.51 491.05,361.52 491.50,361.54 491.95,361.56 492.40,361.57 492.85,361.59 493.30,361.60 493.75,361.62 494.20,361.63 494.65,361.65 495.10,361.66 495.55,361.68 496.00,361.69 496.45,361.70 496.90,361.71 497.35,361.73 497.80,361.74 498.25,361.75 498.70,361.76 499.15,361.78 499.60,361.79 500.05,361.80 500.50,361.81 500.95,361.82 501.40,361.83 501.85,361.84 502.30,361.85 502.75,361.86 503.20,361.87 503.65,361.88 504.10,361.89 504.55,361.90 505.00,361.91 505.45,361.92 505.90,361.93 506.35,361.94 506.80,361.95 507.25,361.96 507.70,361.97 508.15,361.98 508.60,361.98 509.05,361.99 509.50,362.00 509.95,362.01 510.40,362.02 510.85,362.03 511.30,362.04 511.75,362.05 512.20,362.05 512.65,362.06 513.10,362.07 513.55,362.08 514.00,362.09 514.45,362.10 514.90,362.11 515.35,362.12 515.80,362.12 516.25,362.13 516.70,362.14 517.15,362.15 517.60,362.16 518.05,362.17 518.50,362.18 518.95,362.19 519.40,362.20 519.85,362.21 520.30,362.22 520.75,362.23 521.20,362.24 521.65,362.25 522.10,362.26 522.55,362.27 523.00,362.28 523.45,362.29 523.90,362.30 524.35,362.32 524.80,362.33 525.25,362.34 525.70,362.35 526.15,362.36 526.60,362.38 527.05,362.39 527.50,362.40 527.95,362.42 528.40,362.43 528.85,362.44 529.30,362.46 529.75,362.47 530.20,362.49 530.65,362.50 531.10,362.52 531.55,362.53 532.00,362.55 532.45,362.57 532.90,362.58 533.35,362.60 533.80,362.62 534.25,362.63 534.70,362.65 535.15,362.67 535.60,362.69 536.05,362.71 536.50,362.73" fill="none" stroke="#3cc47e" stroke-width="1.1" stroke-linejoin="round" />
<polyline points="311.50,217.20 311.95,217.33 312.40,217.55 312.85,217.85 313.30,218.23 313.75,218.69 314.20,219.24 314.65,219.86 315.10,220.57 315.55,221.35 316.00,222.20 316.45,223.14 316.90,224.15 317.35,225.23 317.80,226.38 318.25,227.60 318.70,228.90 319.15,230.26 319.60,231.69 320.05,233.18 320.50,234.75 320.95,236.37 321.40,238.06 321.85,239.81 322.30,241.63 322.75,243.50 323.20,245.43 323.65,247.42 324.10,249.46 324.55,251.56 325.00,253.69 325.45,255.84 325.90,258.00 326.35,260.16 326.80,262.31 327.25,264.44 327.70,266.53 328.15,268.56 328.60,270.54 329.05,272.45 329.50,274.30 329.95,276.10 330.40,277.84 330.85,279.53 331.30,281.18 331.75,282.79 332.20,284.36 332.65,285.91 333.10,287.43 333.55,288.93 334.00,290.42 334.45,291.89 334.90,293.36 335.35,294.83 335.80,296.30 336.25,297.78 336.70,299.27 337.15,300.75 337.60,302.24 338.05,303.72 338.50,305.20 338.95,306.67 339.40,308.13 339.85,309.57 340.30,311.00 340.75,312.41 341.20,313.80 341.65,315.16 342.10,316.50 342.55,317.80 343.00,319.08 343.45,320.31 343.90,321.51 344.35,322.67 344.80,323.79 345.25,324.86 345.70,325.88 346.15,326.85 346.60,327.78 347.05,328.66 347.50,329.50 347.95,330.30 348.40,331.06 348.85,331.78 349.30,332.46 349.75,333.12 350.20,333.74 350.65,334.33 351.10,334.89 351.55,335.43 352.00,335.94 352.45,336.42 352.90,336.88 353.35,337.32 353.80,337.74 354.25,338.14 354.70,338.52 355.15,338.88 355.60,339.23 356.05,339.57 356.50,339.89 356.95,340.20 357.40,340.50 357.85,340.79 358.30,341.07 358.75,341.35 359.20,341.62 359.65,341.89 360.10,342.15 360.55,342.41 361.00,342.67 361.45,342.92 361.90,343.17 362.35,343.41 362.80,343.65 363.25,343.88 363.70,344.11 364.15,344.34 364.60,344.56 365.05,344.78 365.50,345.00 365.95,345.21 366.40,345.42 366.85,345.62 367.30,345.83 367.75,346.02 368.20,346.22 368.65,346.41 369.10,346.59 369.55,346.78 370.00,346.96 370.45,347.13 370.90,347.31 371.35,347.48 371.80,347.64 372.25,347.81 372.70,347.97 373.15,348.12 373.60,348.28 374.05,348.43 374.50,348.58 374.95,348.72 375.40,348.86 375.85,349.00 376.30,349.14 376.75,349.27 377.20,349.40 377.65,349.53 378.10,349.65 378.55,349.78 379.00,349.89 379.45,350.01 379.90,350.12 380.35,350.24 380.80,350.34 381.25,350.45 381.70,350.55 382.15,350.65 382.60,350.75 383.05,350.85 383.50,350.94 383.95,351.04 384.40,351.12 384.85,351.21 385.30,351.30 385.75,351.38 386.20,351.46 386.65,351.54 387.10,351.61 387.55,351.69 388.00,351.76 388.45,351.83 388.90,351.90 389.35,351.97 389.80,352.03 390.25,352.09 390.70,352.16 391.15,352.21 391.60,352.27 392.05,352.33 392.50,352.38 392.95,352.44 393.40,352.49 393.85,352.54 394.30,352.58 394.75,352.63 395.20,352.68 395.65,352.72 396.10,352.76 396.55,352.80 397.00,352.84 397.45,352.88 397.90,352.92 398.35,352.95 398.80,352.99 399.25,353.02 399.70,353.06 400.15,353.09 400.60,353.12 401.05,353.15 401.50,353.18 401.95,353.21 402.40,353.23 402.85,353.26 403.30,353.28 403.75,353.31 404.20,353.33 404.65,353.36 405.10,353.38 405.55,353.40 406.00,353.42 406.45,353.44 406.90,353.46 407.35,353.48 407.80,353.50 408.25,353.52 408.70,353.54 409.15,353.56 409.60,353.58 410.05,353.59 410.50,353.61 410.95,353.63 411.40,353.65 411.85,353.66 412.30,353.68 412.75,353.70 413.20,353.71 413.65,353.73 414.10,353.75 414.55,353.76 415.00,353.78 415.45,353.80 415.90,353.82 416.35,353.83 416.80,353.85 417.25,353.87 417.70,353.89 418.15,353.90 418.60,353.92 419.05,353.94 419.50,353.96 419.95,353.98 420.40,353.99 420.85,354.01 421.30,354.03 421.75,354.05 422.20,354.07 422.65,354.09 423.10,354.10 423.55,354.12 424.00,354.14 424.45,354.16 424.90,354.18 425.35,354.20 425.80,354.22 426.25,354.24 426.70,354.25 427.15,354.27 427.60,354.29 428.05,354.31 428.50,354.33 428.95,354.35 429.40,354.37 429.85,354.39 430.30,354.41 430.75,354.43 431.20,354.45 431.65,354.47 432.10,354.49 432.55,354.50 433.00,354.52 433.45,354.54 433.90,354.56 434.35,354.58 434.80,354.60 435.25,354.62 435.70,354.64 436.15,354.66 436.60,354.68 437.05,354.70 437.50,354.72 437.95,354.74 438.40,354.76 438.85,354.78 439.30,354.80 439.75,354.82 440.20,354.84 440.65,354.86 441.10,354.88 441.55,354.90 442.00,354.92 442.45,354.94 442.90,354.96 443.35,354.98 443.80,355.00 444.25,355.02 444.70,355.04 445.15,355.06 445.60,355.08 446.05,355.10 446.50,355.12 446.95,355.14 447.40,355.16 447.85,355.18 448.30,355.20 448.75,355.22 449.20,355.24 449.65,355.26 450.10,355.28 450.55,355.30 451.00,355.32 451.45,355.34 451.90,355.36 452.35,355.38 452.80,355.40 453.25,355.42 453.70,355.44 454.15,355.46 454.60,355.48 455.05,355.49 455.50,355.51 455.95,355.53 456.40,355.55 456.85,355.57 457.30,355.59 457.75,355.61 458.20,355.63 458.65,355.65 459.10,355.67 459.55,355.69 460.00,355.71 460.45,355.72 460.90,355.74 461.35,355.76 461.80,355.78 462.25,355.80 462.70,355.82 463.15,355.84 463.60,355.86 464.05,355.87 464.50,355.89 464.95,355.91 465.40,355.93 465.85,355.95 466.30,355.96 466.75,355.98 467.20,356.00 467.65,356.02 468.10,356.04 468.55,356.05 469.00,356.07 469.45,356.09 469.90,356.11 470.35,356.12 470.80,356.14 471.25,356.16 471.70,356.18 472.15,356.19 472.60,356.21 473.05,356.23 473.50,356.24 473.95,356.26 474.40,356.28 474.85,356.29 475.30,356.31 475.75,356.33 476.20,356.34 476.65,356.36 477.10,356.37 477.55,356.39 478.00,356.41 478.45,356.42 478.90,356.44 479.35,356.45 479.80,356.47 480.25,356.48 480.70,356.50 481.15,356.51 481.60,356.53 482.05,356.54 482.50,356.56 482.95,356.57 483.40,356.58 483.85,356.60 484.30,356.61 484.75,356.63 485.20,356.64 485.65,356.65 486.10,356.67 486.55,356.68 487.00,356.69 487.45,356.71 487.90,356.72 488.35,356.73 488.80,356.75 489.25,356.76 489.70,356.77 490.15,356.78 490.60,356.80 491.05,356.81 491.50,356.82 491.95,356.83 492.40,356.84 492.85,356.85 493.30,356.86 493.75,356.88 494.20,356.89 494.65,356.90 495.10,356.91 495.55,356.92 496.00,356.93 496.45,356.94 496.90,356.95 497.35,356.96 497.80,356.97 498.25,356.98 498.70,356.99 499.15,356.99 499.60,357.00 500.05,357.01 500.50,357.02 500.95,357.03 501.40,357.04 501.85,357.05 502.30,357.05 502.75,357.06 503.20,357.07 503.65,357.07 504.10,357.08 504.55,357.09 505.00,357.10 505.45,357.10 505.90,357.11 506.35,357.11 506.80,357.12 507.25,357.13 507.70,357.13 508.15,357.14 508.60,357.14 509.05,357.15 509.50,357.15 509.95,357.15 510.40,357.16 510.85,357.16 511.30,357.17 511.75,357.17 512.20,357.17 512.65,357.18 513.10,357.18 513.55,357.18 514.00,357.18 514.45,357.19 514.90,357.19 515.35,357.19 515.80,357.19 516.25,357.19 516.70,357.19 517.15,357.19 517.60,357.20 518.05,357.20 518.50,357.20 518.95,357.20 519.40,357.20 519.85,357.19 520.30,357.19 520.75,357.19 521.20,357.19 521.65,357.19 522.10,357.19 522.55,357.19 523.00,357.18 523.45,357.18 523.90,357.18 524.35,357.18 524.80,357.17 525.25,357.17 525.70,357.16 526.15,357.16 526.60,357.16 527.05,357.15 527.50,357.15 527.95,357.14 528.40,357.14 528.85,357.13 529.30,357.12 529.75,357.12 530.20,357.11 530.65,357.10 531.10,357.10 531.55,357.09 532.00,357.08 532.45,357.07 532.90,357.07 533.35,357.06 533.80,357.05 534.25,357.04 534.70,357.03 535.15,357.02 535.60,357.01 536.05,357.00 536.50,356.99" fill="none" stroke="#ff5a5a" stroke-width="1.1" stroke-linejoin="round" />
<polyline points="311.50,217.20 311.95,218.56 312.40,219.85 312.85,221.08 313.30,222.27 313.75,223.43 314.20,224.57 314.65,225.71 315.10,226.85 315.55,228.00 316.00,229.19 316.45,230.41 316.90,231.69 317.35,233.03 317.80,234.45 318.25,235.95 318.70,237.55 319.15,239.27 319.60,241.11 320.05,243.08 320.50,245.20 320.95,247.45 321.40,249.81 321.85,252.29 322.30,254.86 322.75,257.52 323.20,260.24 323.65,263.02 324.10,265.85 324.55,268.71 325.00,271.60 325.45,274.49 325.90,277.38 326.35,280.25 326.80,283.09 327.25,285.90 327.70,288.65 328.15,291.33 328.60,293.94 329.05,296.46 329.50,298.89 329.95,301.22 330.40,303.47 330.85,305.63 331.30,307.71 331.75,309.70 332.20,311.61 332.65,313.45 333.10,315.20 333.55,316.89 334.00,318.49 334.45,320.03 334.90,321.50 335.35,322.90 335.80,324.24 336.25,325.51 336.70,326.72 337.15,327.88 337.60,328.97 338.05,330.01 338.50,330.99 338.95,331.93 339.40,332.81 339.85,333.65 340.30,334.44 340.75,335.18 341.20,335.89 341.65,336.55 342.10,337.17 342.55,337.76 343.00,338.32 343.45,338.84 343.90,339.33 344.35,339.80 344.80,340.23 345.25,340.65 345.70,341.04 346.15,341.41 346.60,341.76 347.05,342.09 347.50,342.41 347.95,342.71 348.40,343.01 348.85,343.29 349.30,343.57 349.75,343.84 350.20,344.11 350.65,344.38 351.10,344.64 351.55,344.91 352.00,345.17 352.45,345.43 352.90,345.69 353.35,345.94 353.80,346.20 354.25,346.45 354.70,346.70 355.15,346.95 355.60,347.20 356.05,347.44 356.50,347.69 356.95,347.93 357.40,348.17 357.85,348.41 358.30,348.65 358.75,348.88 359.20,349.12 359.65,349.35 360.10,349.58 360.55,349.81 361.00,350.04 361.45,350.26 361.90,350.49 362.35,350.71 362.80,350.93 363.25,351.15 363.70,351.37 364.15,351.58 364.60,351.80 365.05,352.01 365.50,352.22 365.95,352.43 366.40,352.64 366.85,352.85 367.30,353.05 367.75,353.25 368.20,353.46 368.65,353.66 369.10,353.85 369.55,354.05 370.00,354.25 370.45,354.44 370.90,354.63 371.35,354.82 371.80,355.01 372.25,355.20 372.70,355.39 373.15,355.57 373.60,355.76 374.05,355.94 374.50,356.12 374.95,356.30 375.40,356.48 375.85,356.65 376.30,356.83 376.75,357.00 377.20,357.17 377.65,357.34 378.10,357.51 378.55,357.68 379.00,357.84 379.45,358.01 379.90,358.17 380.35,358.33 380.80,358.50 381.25,358.65 381.70,358.81 382.15,358.97 382.60,359.12 383.05,359.28 383.50,359.43 383.95,359.58 384.40,359.73 384.85,359.88 385.30,360.03 385.75,360.17 386.20,360.32 386.65,360.46 387.10,360.60 387.55,360.74 388.00,360.88 388.45,361.02 388.90,361.16 389.35,361.29 389.80,361.43 390.25,361.56 390.70,361.69 391.15,361.82 391.60,361.95 392.05,362.08 392.50,362.20 392.95,362.33 393.40,362.45 393.85,362.58 394.30,362.70 394.75,362.82 395.20,362.94 395.65,363.06 396.10,363.18 396.55,363.29 397.00,363.41 397.45,363.52 397.90,363.63 398.35,363.74 398.80,363.85 399.25,363.96 399.70,364.07 400.15,364.18 400.60,364.28 401.05,364.39 401.50,364.49 401.95,364.59 402.40,364.70 402.85,364.80 403.30,364.90 403.75,364.99 404.20,365.09 404.65,365.19 405.10,365.28 405.55,365.38 406.00,365.47 406.45,365.56 406.90,365.65 407.35,365.74 407.80,365.83 408.25,365.92 408.70,366.00 409.15,366.09 409.60,366.18 410.05,366.26 410.50,366.34 410.95,366.42 411.40,366.51 411.85,366.58 412.30,366.66 412.75,366.74 413.20,366.82 413.65,366.90 414.10,366.97 414.55,367.05 415.00,367.12 415.45,367.19 415.90,367.26 416.35,367.33 416.80,367.40 417.25,367.47 417.70,367.54 418.15,367.61 418.60,367.67 419.05,367.74 419.50,367.80 419.95,367.87 420.40,367.93 420.85,367.99 421.30,368.05 421.75,368.11 422.20,368.17 422.65,368.23 423.10,368.29 423.55,368.35 424.00,368.41 424.45,368.46 424.90,368.52 425.35,368.57 425.80,368.62 426.25,368.68 426.70,368.73 427.15,368.78 427.60,368.83 428.05,368.88 428.50,368.93 428.95,368.98 429.40,369.02 429.85,369.07 430.30,369.12 430.75,369.16 431.20,369.21 431.65,369.25 432.10,369.29 432.55,369.34 433.00,369.38 433.45,369.42 433.90,369.46 434.35,369.50 434.80,369.54 435.25,369.58 435.70,369.62 436.15,369.65 436.60,369.69 437.05,369.73 437.50,369.76 437.95,369.80 438.40,369.83 438.85,369.87 439.30,369.90 439.75,369.93 440.20,369.96 440.65,370.00 441.10,370.03 441.55,370.06 442.00,370.09 442.45,370.12 442.90,370.15 443.35,370.17 443.80,370.20 444.25,370.23 444.70,370.26 445.15,370.28 445.60,370.31 446.05,370.33 446.50,370.36 446.95,370.38 447.40,370.41 447.85,370.43 448.30,370.45 448.75,370.48 449.20,370.50 449.65,370.52 450.10,370.54 450.55,370.56 451.00,370.58 451.45,370.60 451.90,370.62 452.35,370.64 452.80,370.66 453.25,370.68 453.70,370.70 454.15,370.71 454.60,370.73 455.05,370.75 455.50,370.77 455.95,370.78 456.40,370.80 456.85,370.81 457.30,370.83 457.75,370.84 458.20,370.86 458.65,370.87 459.10,370.89 459.55,370.90 460.00,370.91 460.45,370.93 460.90,370.94 461.35,370.95 461.80,370.96 462.25,370.98 462.70,370.99 463.15,371.00 463.60,371.01 464.05,371.02 464.50,371.03 464.95,371.04 465.40,371.05 465.85,371.06 466.30,371.07 466.75,371.08 467.20,371.09 467.65,371.10 468.10,371.11 468.55,371.12 469.00,371.13 469.45,371.14 469.90,371.15 470.35,371.15 470.80,371.16 471.25,371.17 471.70,371.18 472.15,371.19 472.60,371.19 473.05,371.20 473.50,371.21 473.95,371.22 474.40,371.22 474.85,371.23 475.30,371.24 475.75,371.24 476.20,371.25 476.65,371.26 477.10,371.27 477.55,371.27 478.00,371.28 478.45,371.29 478.90,371.29 479.35,371.30 479.80,371.31 480.25,371.31 480.70,371.32 481.15,371.32 481.60,371.33 482.05,371.34 482.50,371.34 482.95,371.35 483.40,371.36 483.85,371.36 484.30,371.37 484.75,371.38 485.20,371.38 485.65,371.39 486.10,371.40 486.55,371.41 487.00,371.41 487.45,371.42 487.90,371.43 488.35,371.43 488.80,371.44 489.25,371.45 489.70,371.46 490.15,371.46 490.60,371.47 491.05,371.48 491.50,371.49 491.95,371.50 492.40,371.51 492.85,371.51 493.30,371.52 493.75,371.53 494.20,371.54 494.65,371.55 495.10,371.56 495.55,371.57 496.00,371.58 496.45,371.59 496.90,371.60 497.35,371.61 497.80,371.62 498.25,371.63 498.70,371.64 499.15,371.66 499.60,371.67 500.05,371.68 500.50,371.69 500.95,371.70 501.40,371.72 501.85,371.73 502.30,371.74 502.75,371.76 503.20,371.77 503.65,371.79 504.10,371.80 504.55,371.82 505.00,371.83 505.45,371.85 505.90,371.86 506.35,371.88 506.80,371.90 507.25,371.91 507.70,371.93 508.15,371.95 508.60,371.97 509.05,371.98 509.50,372.00 509.95,372.02 510.40,372.04 510.85,372.06 511.30,372.08 511.75,372.10 512.20,372.13 512.65,372.15 513.10,372.17 513.55,372.19 514.00,372.21 514.45,372.24 514.90,372.26 515.35,372.29 515.80,372.31 516.25,372.34 516.70,372.36 517.15,372.39 517.60,372.42 518.05,372.44 518.50,372.47 518.95,372.50 519.40,372.53 519.85,372.56 520.30,372.59 520.75,372.62 521.20,372.65 521.65,372.68 522.10,372.71 522.55,372.75 523.00,372.78 523.45,372.82 523.90,372.85 524.35,372.88 524.80,372.92 525.25,372.96 525.70,372.99 526.15,373.03 526.60,373.07 527.05,373.11 527.50,373.15 527.95,373.19 528.40,373.23 528.85,373.27 529.30,373.31 529.75,373.36 530.20,373.40 530.65,373.44 531.10,373.49 531.55,373.53 532.00,373.58 532.45,373.63 532.90,373.67 533.35,373.72 533.80,373.77 534.25,373.82 534.70,373.87 535.15,373.92 535.60,373.98 536.05,374.03 536.50,374.08" fill="none" stroke="#1f78c8" stroke-width="1.5" stroke-linejoin="round" />
<path d="M356.50 377.70v-2.4M356.50 217.20v2.4M401.50 377.70v-2.4M401.50 217.20v2.4M446.50 377.70v-2.4M446.50 217.20v2.4M491.50 377.70v-2.4M491.50 217.20v2.4M536.50 377.70v-2.4M536.50 217.20v2.4M311.50 377.70h2.4M536.50 377.70h-2.4M311.50 354.77h2.4M536.50 354.77h-2.4M311.50 331.84h2.4M536.50 331.84h-2.4M311.50 308.91h2.4M536.50 308.91h-2.4M311.50 285.99h2.4M536.50 285.99h-2.4M311.50 263.06h2.4M536.50 263.06h-2.4M311.50 240.13h2.4M536.50 240.13h-2.4M311.50 217.20h2.4M536.50 217.20h-2.4" stroke="#3d3d3d" stroke-width="0.9" fill="none"/>
<rect x="311.5" y="217.2" width="225.00" height="160.50" fill="none" stroke="#3d3d3d" stroke-width="1.15"/>
<text x="310.20" y="357.97" font-family='"Liberation Serif", serif' font-size="7.0" text-anchor="end" fill="#4a4a4a" stroke="#4a4a4a" stroke-width="0.2" >0.2</text>
<text x="310.20" y="335.04" font-family='"Liberation Serif", serif' font-size="7.0" text-anchor="end" fill="#4a4a4a" stroke="#4a4a4a" stroke-width="0.2" >0.4</text>
<text x="310.20" y="312.11" font-family='"Liberation Serif", serif' font-size="7.0" text-anchor="end" fill="#4a4a4a" stroke="#4a4a4a" stroke-width="0.2" >0.6</text>
<text x="310.20" y="289.19" font-family='"Liberation Serif", serif' font-size="7.0" text-anchor="end" fill="#4a4a4a" stroke="#4a4a4a" stroke-width="0.2" >0.8</text>
<text x="310.20" y="266.26" font-family='"Liberation Serif", serif' font-size="7.0" text-anchor="end" fill="#4a4a4a" stroke="#4a4a4a" stroke-width="0.2" >1</text>
<text x="310.20" y="243.33" font-family='"Liberation Serif", serif' font-size="7.0" text-anchor="end" fill="#4a4a4a" stroke="#4a4a4a" stroke-width="0.2" >1.2</text>
<text x="310.20" y="220.40" font-family='"Liberation Serif", serif' font-size="7.0" text-anchor="end" fill="#4a4a4a" stroke="#4a4a4a" stroke-width="0.2" >1.4</text>
<text x="309.80" y="383.80" font-family='"Liberation Serif", serif' font-size="7.0" text-anchor="end" fill="#4a4a4a" stroke="#4a4a4a" stroke-width="0.2" >0</text>
<text x="358.80" y="388.00" font-family='"Liberation Serif", serif' font-size="7.0" text-anchor="middle" fill="#4a4a4a" stroke="#4a4a4a" stroke-width="0.2" >100</text>
<text x="403.80" y="388.00" font-family='"Liberation Serif", serif' font-size="7.0" text-anchor="middle" fill="#4a4a4a" stroke="#4a4a4a" stroke-width="0.2" >200</text>
<text x="448.80" y="388.00" font-family='"Liberation Serif", serif' font-size="7.0" text-anchor="middle" fill="#4a4a4a" stroke="#4a4a4a" stroke-width="0.2" >300</text>
<text x="493.80" y="388.00" font-family='"Liberation Serif", serif' font-size="7.0" text-anchor="middle" fill="#4a4a4a" stroke="#4a4a4a" stroke-width="0.2" >400</text>
<text x="538.80" y="388.00" font-family='"Liberation Serif", serif' font-size="7.0" text-anchor="middle" fill="#4a4a4a" stroke="#4a4a4a" stroke-width="0.2" >500</text>
<text x="413.20" y="393.40" font-family='"Liberation Serif", serif' font-size="9.0" text-anchor="start" fill="#111" textLength="22.00" lengthAdjust="spacingAndGlyphs" stroke="#111" stroke-width="0.2" >epoch</text>
<text x="0.00" y="0.00" font-family='"Liberation Serif", serif' font-size="9.2" text-anchor="middle" fill="#111" textLength="14.00" lengthAdjust="spacingAndGlyphs" stroke="#111" stroke-width="0.2" transform="translate(296.3,298) rotate(-90)">loss</text>
<rect x="430.2" y="224.5" width="100.50" height="31.00" fill="#fff" stroke="#333" stroke-width="0.9"/>
<line x1="435.5" y1="229.61" x2="446.1" y2="229.61" stroke="#555" stroke-width="1.1"/>
<text x="450.00" y="231.80" font-family='"Liberation Serif", serif' font-size="7.3" text-anchor="start" fill="#111" textLength="72.60" lengthAdjust="spacingAndGlyphs" stroke="#111" stroke-width="0.18">PSO-BILSTM-Adaboost</text>
<line x1="435.5" y1="236.61" x2="446.1" y2="236.61" stroke="#8d8" stroke-width="1.1"/>
<text x="450.00" y="238.80" font-family='"Liberation Serif", serif' font-size="7.3" text-anchor="start" fill="#111" textLength="76.62" lengthAdjust="spacingAndGlyphs" stroke="#111" stroke-width="0.18">WOA-BILSTM-Adaboost</text>
<line x1="435.5" y1="243.51" x2="446.1" y2="243.51" stroke="#f55" stroke-width="1.1"/>
<text x="450.00" y="245.70" font-family='"Liberation Serif", serif' font-size="7.3" text-anchor="start" fill="#111" textLength="72.60" lengthAdjust="spacingAndGlyphs" stroke="#111" stroke-width="0.18">SSA-BILSTM-Adaboost</text>
<line x1="435.5" y1="249.91" x2="446.1" y2="249.91" stroke="#9bd" stroke-width="1.1"/>
<text x="450.00" y="252.10" font-family='"Liberation Serif", serif' font-size="7.3" text-anchor="start" fill="#111" textLength="72.60" lengthAdjust="spacingAndGlyphs" stroke="#111" stroke-width="0.18">GJO-BILSTM-Adaboost</text>
<text x="80.40" y="200.10" font-family='"Liberation Serif", serif' font-size="10.8" fill="#111" textLength="102.40" lengthAdjust="spacingAndGlyphs">(<tspan font-weight="bold">a</tspan>) Training accuracy</text>
<text x="368.60" y="199.70" font-family='"Liberation Serif", serif' font-size="10.8" fill="#111" textLength="97.40" lengthAdjust="spacingAndGlyphs">(<tspan font-weight="bold">b</tspan>) Testing accuracy</text>
<text x="93.40" y="417.80" font-family='"Liberation Serif", serif' font-size="10.8" fill="#111" textLength="78.00" lengthAdjust="spacingAndGlyphs">(<tspan font-weight="bold">c</tspan>) Training loss</text>
<text x="380.60" y="417.80" font-family='"Liberation Serif", serif' font-size="10.8" fill="#111" textLength="73.80" lengthAdjust="spacingAndGlyphs">(<tspan font-weight="bold">d</tspan>) Testing loss</text>
</svg>
</body></html>
